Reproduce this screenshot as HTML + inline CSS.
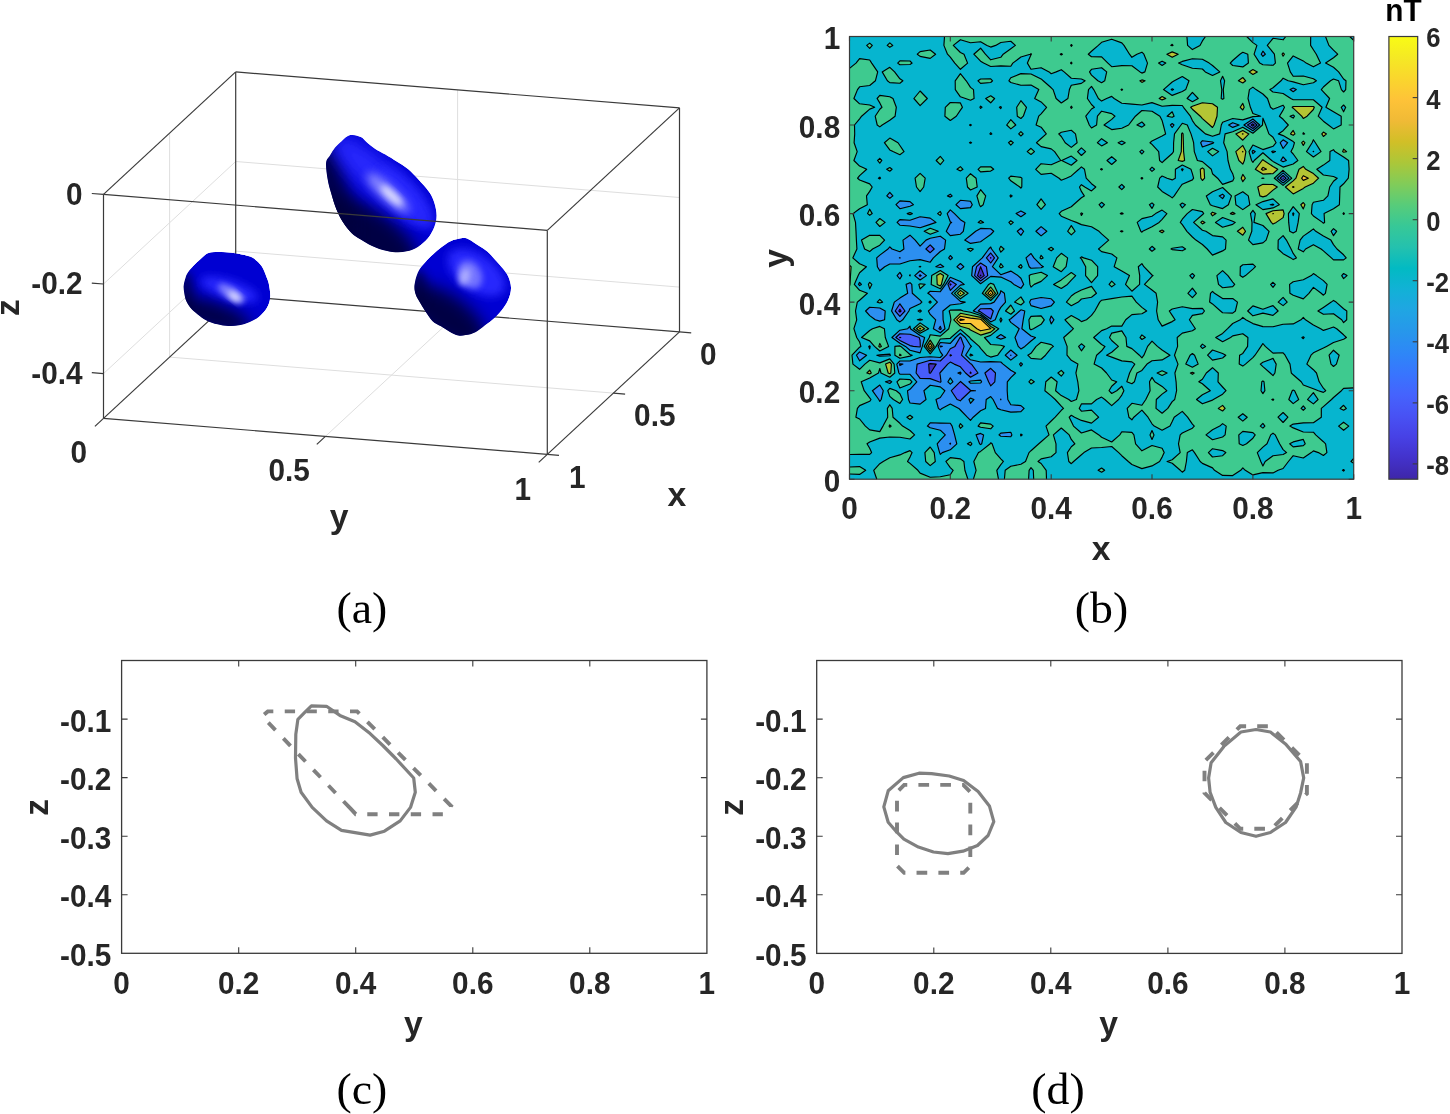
<!DOCTYPE html>
<html lang="en"><head><meta charset="utf-8"><title>Figure</title>
<style>html,body{margin:0;padding:0;background:#fff}svg{display:block}.t{font-family:"Liberation Sans",Arial,Helvetica,sans-serif;font-weight:bold}.c{font-family:"Liberation Serif","DejaVu Serif",serif}</style></head><body>
<svg width="1450" height="1114" viewBox="0 0 1450 1114">
<rect width="1450" height="1114" fill="#fff"/>
<g id="panel-a">
<line x1="235.7" y1="161.5" x2="103.5" y2="284.0" stroke="#dedede" stroke-width="1" />
<line x1="235.7" y1="161.5" x2="679.5" y2="197.5" stroke="#dedede" stroke-width="1" />
<line x1="235.7" y1="251.1" x2="103.5" y2="373.6" stroke="#dedede" stroke-width="1" />
<line x1="235.7" y1="251.1" x2="679.5" y2="287.1" stroke="#dedede" stroke-width="1" />
<line x1="169.6" y1="133.2" x2="169.6" y2="357.1" stroke="#dedede" stroke-width="1" />
<line x1="457.6" y1="89.9" x2="457.6" y2="313.9" stroke="#dedede" stroke-width="1" />
<line x1="169.6" y1="357.1" x2="613.4" y2="393.1" stroke="#dedede" stroke-width="1" />
<line x1="457.6" y1="313.9" x2="325.4" y2="436.4" stroke="#dedede" stroke-width="1" />
<line x1="235.7" y1="71.9" x2="235.7" y2="295.9" stroke="#3a3a3a" stroke-width="1.2" />
<line x1="235.7" y1="295.9" x2="103.5" y2="418.4" stroke="#3a3a3a" stroke-width="1.2" />
<line x1="235.7" y1="295.9" x2="679.5" y2="331.9" stroke="#3a3a3a" stroke-width="1.2" />
<defs><filter id="b3" x="-50%" y="-50%" width="200%" height="200%"><feGaussianBlur stdDeviation="3"/></filter><filter id="b5" x="-50%" y="-50%" width="200%" height="200%"><feGaussianBlur stdDeviation="5"/></filter><filter id="b8" x="-50%" y="-50%" width="200%" height="200%"><feGaussianBlur stdDeviation="8"/></filter><filter id="b12" x="-50%" y="-50%" width="200%" height="200%"><feGaussianBlur stdDeviation="12"/></filter>
<clipPath id="cp-big"><path d="M350.2 135.1C353.4 134.3 358.2 135.8 360.9 137.0C363.6 138.1 364.1 140.0 366.5 142.0C368.9 144.0 372.2 146.8 375.3 148.9C378.5 151.0 381.8 152.5 385.4 154.5C388.9 156.6 392.9 159.0 396.7 161.5C400.5 163.9 404.4 166.1 408.0 169.0C411.5 171.9 414.5 175.2 418.0 179.0C421.6 182.9 426.6 188.3 429.3 192.2C432.1 196.2 433.2 199.0 434.4 202.9C435.6 206.8 436.6 211.5 436.6 215.5C436.6 219.5 435.8 223.0 434.4 226.8C432.9 230.6 430.8 234.7 428.1 238.1C425.4 241.4 421.6 244.7 418.0 246.9C414.5 249.1 410.5 250.4 406.7 251.3C403.0 252.2 399.4 252.4 395.4 252.2C391.4 252.0 387.3 251.3 382.9 250.0C378.5 248.7 372.8 246.2 369.0 244.4C365.3 242.6 363.2 241.2 360.3 239.3C357.3 237.5 354.4 236.0 351.5 233.1C348.5 230.1 345.2 225.7 342.7 221.8C340.2 217.8 338.3 213.8 336.4 209.2C334.5 204.6 332.8 199.1 331.4 194.1C329.9 189.1 328.5 184.3 327.6 179.0C326.7 173.8 325.7 166.7 326.1 162.7C326.5 158.7 328.6 157.7 330.1 155.2C331.6 152.7 333.2 149.9 335.1 147.6C337.0 145.3 338.9 143.5 341.4 141.4C343.9 139.3 347.0 135.8 350.2 135.1Z"/></clipPath>
<clipPath id="cp-left"><path d="M208.5 252.9C212.0 251.7 216.9 251.9 221.4 251.9C225.8 252.0 230.9 252.6 235.2 253.2C239.5 253.8 243.9 254.8 247.0 255.7C250.2 256.6 251.5 256.8 254.0 258.6C256.4 260.5 259.8 263.6 261.9 266.5C263.9 269.5 265.1 273.5 266.3 276.4C267.4 279.3 268.1 280.4 268.8 283.8C269.4 287.3 270.6 293.1 270.2 297.2C269.9 301.2 268.7 304.7 266.8 308.0C264.9 311.3 261.7 314.6 258.9 316.9C256.1 319.2 253.3 320.5 250.0 321.9C246.7 323.3 242.8 324.6 239.1 325.3C235.5 326.0 231.9 326.2 228.3 326.0C224.7 325.8 221.0 325.3 217.4 324.3C213.8 323.4 209.8 322.0 206.5 320.4C203.3 318.7 200.3 316.5 197.7 314.4C195.0 312.4 192.6 310.2 190.7 308.0C188.8 305.8 187.4 303.6 186.3 301.1C185.2 298.6 184.8 295.7 184.3 293.2C183.9 290.7 183.5 288.8 183.6 286.3C183.8 283.8 184.6 280.7 185.3 278.4C186.0 276.1 186.4 274.6 187.8 272.5C189.2 270.3 191.6 267.8 193.7 265.6C195.8 263.3 198.1 261.2 200.6 259.1C203.1 257.0 205.1 254.1 208.5 252.9Z"/></clipPath>
<clipPath id="cp-right"><path d="M462.5 238.1C465.6 237.9 466.5 238.4 469.0 239.5C471.5 240.7 474.5 243.0 477.6 244.9C480.6 246.9 484.4 249.0 487.3 251.4C490.2 253.8 492.3 256.7 494.8 259.5C497.3 262.3 500.1 265.2 502.4 268.1C504.6 271.0 506.9 273.5 508.3 276.7C509.7 280.0 510.9 283.9 511.0 287.5C511.1 291.1 510.1 294.9 508.8 298.3C507.6 301.7 505.8 304.7 503.4 308.0C501.1 311.2 497.9 314.8 494.8 317.7C491.8 320.5 488.4 322.8 485.1 325.2C481.9 327.6 478.7 330.6 475.4 332.2C472.2 333.9 468.6 334.6 465.7 335.1C462.9 335.7 460.9 336.0 458.2 335.5C455.5 334.9 452.4 333.2 449.6 331.7C446.7 330.2 443.8 328.1 440.9 326.3C438.1 324.5 434.9 323.4 432.3 320.9C429.7 318.4 427.5 314.4 425.3 311.2C423.2 308.0 421.0 304.4 419.4 301.5C417.8 298.6 416.4 296.7 415.6 294.0C414.8 291.3 414.2 288.9 414.5 285.3C414.9 281.8 416.1 276.2 417.8 272.4C419.5 268.6 422.0 265.9 424.8 262.7C427.6 259.5 431.4 255.8 434.5 253.0C437.5 250.2 440.4 248.0 443.1 246.0C445.8 244.0 447.4 242.5 450.6 241.2C453.9 239.9 459.4 238.4 462.5 238.1Z"/></clipPath>
</defs>
<g clip-path="url(#cp-big)"><path d="M350.2 135.1C353.4 134.3 358.2 135.8 360.9 137.0C363.6 138.1 364.1 140.0 366.5 142.0C368.9 144.0 372.2 146.8 375.3 148.9C378.5 151.0 381.8 152.5 385.4 154.5C388.9 156.6 392.9 159.0 396.7 161.5C400.5 163.9 404.4 166.1 408.0 169.0C411.5 171.9 414.5 175.2 418.0 179.0C421.6 182.9 426.6 188.3 429.3 192.2C432.1 196.2 433.2 199.0 434.4 202.9C435.6 206.8 436.6 211.5 436.6 215.5C436.6 219.5 435.8 223.0 434.4 226.8C432.9 230.6 430.8 234.7 428.1 238.1C425.4 241.4 421.6 244.7 418.0 246.9C414.5 249.1 410.5 250.4 406.7 251.3C403.0 252.2 399.4 252.4 395.4 252.2C391.4 252.0 387.3 251.3 382.9 250.0C378.5 248.7 372.8 246.2 369.0 244.4C365.3 242.6 363.2 241.2 360.3 239.3C357.3 237.5 354.4 236.0 351.5 233.1C348.5 230.1 345.2 225.7 342.7 221.8C340.2 217.8 338.3 213.8 336.4 209.2C334.5 204.6 332.8 199.1 331.4 194.1C329.9 189.1 328.5 184.3 327.6 179.0C326.7 173.8 325.7 166.7 326.1 162.7C326.5 158.7 328.6 157.7 330.1 155.2C331.6 152.7 333.2 149.9 335.1 147.6C337.0 145.3 338.9 143.5 341.4 141.4C343.9 139.3 347.0 135.8 350.2 135.1Z" fill="#0000d2"/>
<ellipse cx="364.0" cy="233.1" rx="62.0" ry="26.0" transform="rotate(32 364.0 233.1)" fill="#00003c" opacity="0.95" filter="url(#b8)"/>
<ellipse cx="332.0" cy="195.4" rx="17.0" ry="58.0" transform="rotate(-14 332.0 195.4)" fill="#00003c" opacity="0.9" filter="url(#b8)"/>
<ellipse cx="380.4" cy="179.0" rx="62.0" ry="17.0" transform="rotate(42 380.4 179.0)" fill="#2a2aff" opacity="0.95" filter="url(#b8)"/>
<ellipse cx="405.5" cy="197.9" rx="40.0" ry="14.0" transform="rotate(48 405.5 197.9)" fill="#2a2aff" opacity="0.8" filter="url(#b5)"/>
<ellipse cx="387.9" cy="192.9" rx="28.0" ry="7.5" transform="rotate(43 387.9 192.9)" fill="#9090ff" opacity="0.95" filter="url(#b5)"/>
<ellipse cx="391.7" cy="195.4" rx="14.0" ry="4.0" transform="rotate(43 391.7 195.4)" fill="#e8e8ff" opacity="0.95" filter="url(#b3)"/>
</g>
<g clip-path="url(#cp-left)"><path d="M208.5 252.9C212.0 251.7 216.9 251.9 221.4 251.9C225.8 252.0 230.9 252.6 235.2 253.2C239.5 253.8 243.9 254.8 247.0 255.7C250.2 256.6 251.5 256.8 254.0 258.6C256.4 260.5 259.8 263.6 261.9 266.5C263.9 269.5 265.1 273.5 266.3 276.4C267.4 279.3 268.1 280.4 268.8 283.8C269.4 287.3 270.6 293.1 270.2 297.2C269.9 301.2 268.7 304.7 266.8 308.0C264.9 311.3 261.7 314.6 258.9 316.9C256.1 319.2 253.3 320.5 250.0 321.9C246.7 323.3 242.8 324.6 239.1 325.3C235.5 326.0 231.9 326.2 228.3 326.0C224.7 325.8 221.0 325.3 217.4 324.3C213.8 323.4 209.8 322.0 206.5 320.4C203.3 318.7 200.3 316.5 197.7 314.4C195.0 312.4 192.6 310.2 190.7 308.0C188.8 305.8 187.4 303.6 186.3 301.1C185.2 298.6 184.8 295.7 184.3 293.2C183.9 290.7 183.5 288.8 183.6 286.3C183.8 283.8 184.6 280.7 185.3 278.4C186.0 276.1 186.4 274.6 187.8 272.5C189.2 270.3 191.6 267.8 193.7 265.6C195.8 263.3 198.1 261.2 200.6 259.1C203.1 257.0 205.1 254.1 208.5 252.9Z" fill="#0000d2"/>
<ellipse cx="209.5" cy="314.9" rx="44.0" ry="14.0" transform="rotate(18 209.5 314.9)" fill="#00003c" opacity="0.95" filter="url(#b8)"/>
<ellipse cx="185.8" cy="293.2" rx="8.0" ry="22.0" transform="rotate(0 185.8 293.2)" fill="#00003c" opacity="0.7" filter="url(#b5)"/>
<ellipse cx="229.3" cy="289.3" rx="30.0" ry="9.0" transform="rotate(18 229.3 289.3)" fill="#2a2aff" opacity="0.95" filter="url(#b5)"/>
<ellipse cx="231.2" cy="293.2" rx="15.0" ry="5.5" transform="rotate(32 231.2 293.2)" fill="#8a8aff" opacity="0.95" filter="url(#b3)"/>
<ellipse cx="234.7" cy="296.7" rx="7.5" ry="3.5" transform="rotate(38 234.7 296.7)" fill="#e8e8ff" opacity="1" filter="url(#b3)"/>
</g>
<g clip-path="url(#cp-right)"><path d="M462.5 238.1C465.6 237.9 466.5 238.4 469.0 239.5C471.5 240.7 474.5 243.0 477.6 244.9C480.6 246.9 484.4 249.0 487.3 251.4C490.2 253.8 492.3 256.7 494.8 259.5C497.3 262.3 500.1 265.2 502.4 268.1C504.6 271.0 506.9 273.5 508.3 276.7C509.7 280.0 510.9 283.9 511.0 287.5C511.1 291.1 510.1 294.9 508.8 298.3C507.6 301.7 505.8 304.7 503.4 308.0C501.1 311.2 497.9 314.8 494.8 317.7C491.8 320.5 488.4 322.8 485.1 325.2C481.9 327.6 478.7 330.6 475.4 332.2C472.2 333.9 468.6 334.6 465.7 335.1C462.9 335.7 460.9 336.0 458.2 335.5C455.5 334.9 452.4 333.2 449.6 331.7C446.7 330.2 443.8 328.1 440.9 326.3C438.1 324.5 434.9 323.4 432.3 320.9C429.7 318.4 427.5 314.4 425.3 311.2C423.2 308.0 421.0 304.4 419.4 301.5C417.8 298.6 416.4 296.7 415.6 294.0C414.8 291.3 414.2 288.9 414.5 285.3C414.9 281.8 416.1 276.2 417.8 272.4C419.5 268.6 422.0 265.9 424.8 262.7C427.6 259.5 431.4 255.8 434.5 253.0C437.5 250.2 440.4 248.0 443.1 246.0C445.8 244.0 447.4 242.5 450.6 241.2C453.9 239.9 459.4 238.4 462.5 238.1Z" fill="#0000d2"/>
<ellipse cx="445.3" cy="316.6" rx="48.0" ry="22.0" transform="rotate(35 445.3 316.6)" fill="#00003c" opacity="0.95" filter="url(#b8)"/>
<ellipse cx="418.3" cy="289.7" rx="9.0" ry="20.0" transform="rotate(0 418.3 289.7)" fill="#00003c" opacity="0.7" filter="url(#b5)"/>
<ellipse cx="476.5" cy="272.4" rx="33.0" ry="18.0" transform="rotate(35 476.5 272.4)" fill="#2a2aff" opacity="0.95" filter="url(#b5)"/>
<ellipse cx="470.0" cy="274.6" rx="15.0" ry="11.0" transform="rotate(60 470.0 274.6)" fill="#7878ff" opacity="0.95" filter="url(#b3)"/>
<ellipse cx="464.7" cy="276.7" rx="5.0" ry="9.0" transform="rotate(20 464.7 276.7)" fill="#b8b8ff" opacity="0.9" filter="url(#b3)"/>
</g>
<line x1="235.7" y1="71.9" x2="103.5" y2="194.4" stroke="#3a3a3a" stroke-width="1.2" />
<line x1="235.7" y1="71.9" x2="679.5" y2="107.9" stroke="#3a3a3a" stroke-width="1.2" />
<line x1="103.5" y1="194.4" x2="547.3" y2="230.4" stroke="#3a3a3a" stroke-width="1.2" />
<line x1="679.5" y1="107.9" x2="547.3" y2="230.4" stroke="#3a3a3a" stroke-width="1.2" />
<line x1="103.5" y1="194.4" x2="103.5" y2="418.4" stroke="#3a3a3a" stroke-width="1.2" />
<line x1="547.3" y1="230.4" x2="547.3" y2="454.4" stroke="#3a3a3a" stroke-width="1.2" />
<line x1="679.5" y1="107.9" x2="679.5" y2="331.9" stroke="#3a3a3a" stroke-width="1.2" />
<line x1="103.5" y1="418.4" x2="547.3" y2="454.4" stroke="#3a3a3a" stroke-width="1.2" />
<line x1="547.3" y1="454.4" x2="679.5" y2="331.9" stroke="#3a3a3a" stroke-width="1.2" />
<line x1="103.5" y1="194.4" x2="91.8" y2="193.5" stroke="#3a3a3a" stroke-width="1.2" />
<line x1="103.5" y1="284.0" x2="91.8" y2="283.1" stroke="#3a3a3a" stroke-width="1.2" />
<line x1="103.5" y1="373.6" x2="91.8" y2="372.7" stroke="#3a3a3a" stroke-width="1.2" />
<line x1="679.5" y1="331.9" x2="691.2" y2="332.8" stroke="#3a3a3a" stroke-width="1.2" />
<line x1="613.4" y1="393.1" x2="625.1" y2="394.1" stroke="#3a3a3a" stroke-width="1.2" />
<line x1="547.3" y1="454.4" x2="559.0" y2="455.3" stroke="#3a3a3a" stroke-width="1.2" />
<line x1="103.5" y1="418.4" x2="94.9" y2="426.4" stroke="#3a3a3a" stroke-width="1.2" />
<line x1="325.4" y1="436.4" x2="316.8" y2="444.4" stroke="#3a3a3a" stroke-width="1.2" />
<line x1="547.3" y1="454.4" x2="538.7" y2="462.4" stroke="#3a3a3a" stroke-width="1.2" />
<g class="t">
<text transform="translate(82.6,204.5) scale(0.97,1)" text-anchor="end" font-size="30.7" fill="#262626" >0</text>
<text transform="translate(82.6,294.1) scale(0.97,1)" text-anchor="end" font-size="30.7" fill="#262626" >-0.2</text>
<text transform="translate(82.6,383.7) scale(0.97,1)" text-anchor="end" font-size="30.7" fill="#262626" >-0.4</text>
<text transform="translate(78.8,462.6) scale(0.97,1)" text-anchor="middle" font-size="30.7" fill="#262626" >0</text>
<text transform="translate(289.1,480.6) scale(0.97,1)" text-anchor="middle" font-size="30.7" fill="#262626" >0.5</text>
<text transform="translate(522.8,500.0) scale(0.97,1)" text-anchor="middle" font-size="30.7" fill="#262626" >1</text>
<text transform="translate(708.2,364.8) scale(0.97,1)" text-anchor="middle" font-size="30.7" fill="#262626" >0</text>
<text transform="translate(654.8,426.3) scale(0.97,1)" text-anchor="middle" font-size="30.7" fill="#262626" >0.5</text>
<text transform="translate(577.2,488.3) scale(0.97,1)" text-anchor="middle" font-size="30.7" fill="#262626" >1</text>
<text transform="translate(339.0,527.8) scale(1,1)" text-anchor="middle" font-size="33.7" fill="#262626" >y</text>
<text transform="translate(676.8,506.0) scale(1,1)" text-anchor="middle" font-size="33.7" fill="#262626" >x</text>
<text transform="translate(19,307.6) rotate(-90)" text-anchor="middle" font-size="33.7" fill="#262626">z</text>
</g>
</g>
<g id="panel-b">
<rect x="849.5" y="36.5" width="504.2" height="442.7" fill="#3eca8f"/>
<path d="M980.4 275.6L980.6 275.7L980.8 275.6L980.6 275.1Z" fill="#3e26a8" fill-rule="evenodd"/>
<path d="M929.3 373.0L930.2 373.2L930.6 373.0L936.2 364.1L930.2 363.6L928.7 364.1ZM970.1 373.0L970.5 373.3L971.2 373.0L970.5 372.1ZM950.0 355.2L950.3 355.9L951.5 355.2L950.3 354.7ZM899.7 337.5L899.9 337.7L900.8 337.5L899.9 337.4ZM898.8 311.0L899.9 312.2L901.1 311.0L899.9 309.3ZM950.0 284.4L950.3 285.2L951.1 284.4L950.3 283.9ZM977.5 275.6L980.6 278.4L984.2 275.6L980.6 266.7L980.6 266.7L980.6 266.7ZM980.6 275.7L980.4 275.6L980.6 275.1L980.8 275.6ZM990.5 257.9L990.7 258.1L990.9 257.9L990.7 257.6ZM1283.0 178.2L1283.1 178.3L1283.3 178.2L1283.1 178.0ZM1251.1 125.0L1252.9 126.2L1254.2 125.0L1252.9 123.8Z" fill="#422fc1" fill-rule="evenodd"/>
<path d="M949.7 443.8L950.3 444.1L950.6 443.8L950.3 443.2ZM957.1 399.5L960.4 400.8L961.5 399.5L970.5 391.0L975.5 390.7L970.5 390.3L960.8 381.8L960.4 381.4L960.1 381.8L951.3 390.7ZM1000.6 399.5L1000.8 399.8L1000.9 399.5L1000.8 399.0ZM938.8 381.8L940.3 382.3L941.0 381.8L940.3 375.9L939.8 373.0L940.3 372.5L947.7 364.1L950.3 362.1L954.2 364.1L960.4 366.8L965.6 373.0L970.5 377.2L978.0 373.0L971.5 364.1L970.5 363.7L961.5 355.2L964.1 346.4L960.9 337.5L960.4 337.1L960.0 337.5L954.9 346.4L950.3 348.8L946.3 355.2L940.3 361.0L930.2 360.2L920.1 363.2L917.1 364.1L916.1 373.0L920.1 378.4L930.2 378.6ZM950.3 355.9L950.0 355.2L950.3 354.7L951.5 355.2ZM970.5 373.3L970.1 373.0L970.5 372.1L971.2 373.0ZM930.2 373.2L929.3 373.0L928.7 364.1L930.2 363.6L936.2 364.1L930.6 373.0ZM988.6 381.8L990.7 385.8L994.8 381.8L995.5 373.0L990.7 368.3L984.9 373.0ZM899.5 364.1L899.9 365.6L902.9 364.1L899.9 363.7ZM1010.7 355.2L1010.8 355.4L1011.0 355.2L1010.8 355.1ZM913.4 346.4L920.1 347.0L920.3 346.4L920.1 340.5L919.2 337.5L910.0 334.3L899.9 333.8L895.8 337.5L899.9 340.4L910.0 345.6ZM899.9 337.7L899.7 337.5L899.9 337.4L900.8 337.5ZM940.1 346.4L940.3 346.9L942.3 346.4L940.3 346.0ZM938.9 328.7L940.3 329.5L941.2 328.7L940.3 326.3ZM895.2 311.0L899.9 316.3L905.0 311.0L899.9 303.8ZM899.9 312.2L898.8 311.0L899.9 309.3L901.1 311.0ZM978.2 311.0L980.6 311.9L990.7 319.0L993.3 311.0L990.7 308.5L980.6 308.7ZM947.9 284.4L950.3 290.3L956.4 284.4L950.3 280.6ZM950.3 285.2L950.0 284.4L950.3 283.9L951.1 284.4ZM919.2 275.6L920.1 276.3L921.2 275.6L920.1 274.8ZM974.6 275.6L980.6 281.0L987.7 275.6L986.4 266.7L980.6 263.0L976.6 266.7ZM980.6 278.4L977.5 275.6L980.6 266.7L980.6 266.7L980.6 266.7L984.2 275.6ZM899.4 257.9L899.9 258.0L900.2 257.9L899.9 257.7ZM986.4 257.9L990.7 263.0L994.5 257.9L990.7 253.0ZM990.7 258.1L990.5 257.9L990.7 257.6L990.9 257.9ZM925.9 249.0L930.2 252.7L934.2 249.0L930.2 244.8ZM1280.1 178.2L1283.1 180.6L1286.1 178.2L1283.1 175.5ZM1283.1 178.3L1283.0 178.2L1283.1 178.0L1283.3 178.2ZM1247.5 125.0L1252.9 128.5L1257.0 125.0L1252.9 121.4ZM1252.9 126.2L1251.1 125.0L1252.9 123.8L1254.2 125.0Z" fill="#475dfa" fill-rule="evenodd"/>
<path d="M939.6 452.6L940.3 454.4L942.3 452.6L950.3 449.8L956.8 443.8L954.6 434.9L952.1 426.1L950.3 423.3L940.3 423.1L930.2 422.8L927.4 426.1L930.2 427.8L940.3 430.2L945.3 434.9L940.3 440.1L937.2 443.8ZM950.3 444.1L949.7 443.8L950.3 443.2L950.6 443.8ZM979.6 443.8L980.6 444.6L981.7 443.8L983.6 434.9L980.6 433.4L976.1 434.9ZM999.0 434.9L1000.8 436.3L1010.8 436.7L1011.9 434.9L1010.8 432.3L1000.8 433.1ZM967.3 417.2L970.5 420.3L973.2 417.2L980.6 410.7L985.5 408.4L986.2 399.5L990.7 396.6L993.1 399.5L997.6 408.4L1000.8 409.8L1010.8 412.1L1020.9 411.7L1024.1 408.4L1020.9 405.6L1010.8 404.7L1007.8 399.5L1007.2 390.7L1007.3 381.8L1010.8 377.6L1015.6 373.0L1010.8 370.3L1003.1 364.1L1000.8 362.0L990.7 361.6L980.6 362.0L970.5 359.8L965.6 355.2L970.5 347.2L971.5 346.4L970.5 345.5L965.3 337.5L960.4 333.3L955.5 337.5L950.3 343.4L940.3 342.5L938.1 346.4L940.3 351.9L942.7 355.2L940.3 357.5L930.2 356.8L920.1 357.5L910.0 361.0L899.9 361.0L896.8 364.1L898.9 373.0L899.9 374.2L910.0 374.3L916.8 381.8L910.0 389.3L907.5 390.7L908.5 399.5L910.0 403.0L920.1 404.1L926.0 399.5L923.9 390.7L930.2 385.2L940.3 386.9L944.9 390.7L940.3 397.5L936.0 399.5L938.4 408.4L940.3 409.9L941.9 408.4L950.3 404.0L958.8 408.4L960.4 410.0ZM970.5 403.4L969.0 399.5L970.5 398.1L973.9 399.5ZM990.7 385.8L988.6 381.8L984.9 373.0L990.7 368.3L995.5 373.0L994.8 381.8ZM1000.8 399.8L1000.6 399.5L1000.8 399.0L1000.9 399.5ZM940.3 346.9L940.1 346.4L940.3 346.0L942.3 346.4ZM899.9 365.6L899.5 364.1L899.9 363.7L902.9 364.1ZM940.3 382.3L938.8 381.8L930.2 378.6L920.1 378.4L916.1 373.0L917.1 364.1L920.1 363.2L930.2 360.2L940.3 361.0L946.3 355.2L950.3 348.8L954.9 346.4L960.0 337.5L960.4 337.1L960.9 337.5L964.1 346.4L961.5 355.2L970.5 363.7L971.5 364.1L978.0 373.0L970.5 377.2L965.6 373.0L960.4 366.8L954.2 364.1L950.3 362.1L947.7 364.1L940.3 372.5L939.8 373.0L940.3 375.9L941.0 381.8ZM950.3 384.2L947.9 381.8L950.3 377.9L952.9 381.8ZM960.4 400.8L957.1 399.5L951.3 390.7L960.1 381.8L960.4 381.4L960.8 381.8L970.5 390.3L975.5 390.7L970.5 391.0L961.5 399.5ZM960.4 374.1L957.9 373.0L960.4 372.1L961.1 373.0ZM970.5 383.2L968.9 381.8L970.5 381.0L980.6 380.1L981.6 381.8L980.6 383.0ZM878.8 399.5L879.8 401.4L881.2 399.5L883.3 390.7L879.8 385.0L872.4 390.7ZM885.4 381.8L889.8 383.5L891.7 381.8L889.8 380.6ZM1019.6 364.1L1020.9 366.2L1022.5 364.1L1020.9 362.6ZM856.5 355.2L859.6 360.8L866.6 355.2L859.6 351.9ZM876.8 355.2L879.8 356.1L889.8 355.7L890.4 355.2L889.8 354.1L879.8 354.8ZM1005.3 355.2L1010.8 360.1L1017.1 355.2L1010.8 350.0ZM1010.8 355.4L1010.7 355.2L1010.8 355.1L1011.0 355.2ZM868.7 346.4L869.7 349.0L870.2 346.4L869.7 345.8ZM905.5 346.4L910.0 350.3L920.1 352.9L922.3 346.4L924.6 337.5L920.1 335.5L910.4 328.7L910.0 326.2L907.7 328.7L899.9 330.2L891.9 337.5L899.9 343.2ZM920.1 347.0L913.4 346.4L910.0 345.6L899.9 340.4L895.8 337.5L899.9 333.8L910.0 334.3L919.2 337.5L920.1 340.5L920.3 346.4ZM1018.2 346.4L1020.9 348.9L1024.9 346.4L1031.0 341.0L1035.5 337.5L1031.0 336.0L1021.9 328.7L1023.2 319.8L1024.8 311.0L1020.9 309.8L1019.6 311.0L1010.8 318.7L1009.1 319.8L1010.8 322.4L1019.2 328.7L1015.0 337.5ZM996.5 337.5L1000.8 339.1L1005.6 337.5L1000.8 334.5ZM933.4 328.7L940.3 332.8L945.0 328.7L943.1 319.8L942.9 311.0L950.3 305.0L960.4 303.7L965.2 302.1L960.4 301.4L951.6 293.3L960.4 285.1L964.2 284.4L960.4 281.5L950.3 277.3L945.7 284.4L940.3 291.7L930.2 291.2L927.8 293.3L930.2 294.8L937.4 302.1L930.2 309.4L928.4 311.0L930.2 314.4L935.7 319.8ZM940.3 329.5L938.9 328.7L940.3 326.3L941.2 328.7ZM950.3 290.3L947.9 284.4L950.3 280.6L956.4 284.4ZM875.3 319.8L879.8 321.1L884.6 319.8L885.2 311.0L879.8 308.0L869.7 307.3L865.6 311.0L869.7 315.6ZM896.8 319.8L899.9 321.9L902.7 319.8L908.9 311.0L910.0 308.4L920.1 303.7L921.9 302.1L920.1 300.1L912.3 293.3L911.8 284.4L910.0 282.7L906.1 284.4L907.7 293.3L899.9 298.1L894.3 302.1L891.6 311.0ZM899.9 316.3L895.2 311.0L899.9 303.8L905.0 311.0ZM917.3 319.8L920.1 320.2L922.5 319.8L920.1 319.0ZM988.4 319.8L990.7 321.9L995.2 319.8L998.7 311.0L1000.8 307.4L1005.5 302.1L1004.4 293.3L1000.8 290.7L1000.2 293.3L994.1 302.1L990.7 303.6L980.6 304.1L973.3 311.0L980.6 313.7ZM980.6 311.9L978.2 311.0L980.6 308.7L990.7 308.5L993.3 311.0L990.7 319.0ZM1049.8 319.8L1051.2 323.9L1054.0 319.8L1051.2 316.0ZM1029.6 302.1L1031.0 305.6L1041.1 308.5L1051.2 305.9L1054.4 302.1L1051.2 298.8L1041.1 297.5L1031.0 299.5ZM858.5 284.4L859.6 285.6L861.4 284.4L859.6 282.4ZM1013.9 284.4L1020.9 288.3L1023.7 284.4L1020.9 278.3L1017.9 275.6L1010.8 271.1L1000.8 274.7L992.4 266.7L998.2 257.9L991.6 249.0L990.7 247.0L988.8 249.0L982.3 257.9L980.6 259.4L972.5 266.7L971.7 275.6L980.6 283.7L990.7 276.4L1000.8 277.1L1010.8 281.8ZM980.6 281.0L974.6 275.6L976.6 266.7L980.6 263.0L986.4 266.7L987.7 275.6ZM990.7 263.0L986.4 257.9L990.7 253.0L994.5 257.9ZM897.1 275.6L899.9 279.0L901.9 275.6L899.9 272.4ZM914.7 275.6L920.1 280.0L926.5 275.6L920.1 270.8ZM920.1 276.3L919.2 275.6L920.1 274.8L921.2 275.6ZM877.4 266.7L879.8 270.8L884.7 266.7L889.8 264.0L899.9 264.0L910.0 260.8L920.1 259.6L930.2 262.2L933.4 257.9L940.3 251.5L944.5 249.0L945.6 240.1L940.3 236.2L930.2 238.3L926.0 240.1L920.1 246.1L915.2 240.1L910.0 235.2L903.0 240.1L903.9 249.0L899.9 251.7L892.0 249.0L889.8 246.8L888.0 249.0L879.8 255.1L876.7 257.9ZM899.9 258.0L899.4 257.9L899.9 257.7L900.2 257.9ZM930.2 252.7L925.9 249.0L930.2 244.8L934.2 249.0ZM935.8 266.7L940.3 267.5L943.7 266.7L940.3 264.2ZM957.0 266.7L960.4 269.6L963.8 266.7L960.4 263.5ZM1029.2 266.7L1031.0 268.3L1041.1 267.8L1043.4 266.7L1041.1 265.2L1033.9 257.9L1031.0 253.5L1026.0 257.9ZM948.7 257.9L950.3 259.7L952.5 257.9L950.3 255.5ZM964.7 240.1L970.5 243.4L980.6 241.8L982.8 240.1L990.7 234.5L993.7 231.3L990.7 228.7L980.6 228.4L975.7 231.3L970.5 235.5ZM946.3 231.3L950.3 235.6L960.4 234.2L963.3 231.3L964.9 222.4L960.4 219.7L954.5 213.6L950.3 209.9L947.2 213.6L950.3 221.7L951.6 222.4L950.3 223.2ZM1017.3 231.3L1020.9 235.4L1023.7 231.3L1020.9 228.2ZM1035.9 231.3L1041.1 235.9L1046.8 231.3L1041.1 226.6ZM897.1 222.4L899.9 225.2L910.0 226.0L920.1 227.7L930.2 224.4L936.0 222.4L930.2 218.1L920.1 216.8L910.0 220.2L899.9 219.6ZM1016.1 213.6L1020.9 216.7L1025.6 213.6L1020.9 210.9ZM1292.7 213.6L1293.2 215.6L1293.9 213.6L1293.2 212.8ZM896.0 204.7L899.9 208.7L910.0 206.3L913.4 204.7L910.0 201.6L899.9 200.9ZM956.0 204.7L960.4 208.6L970.5 207.6L972.3 204.7L970.5 201.3L960.4 200.3ZM1270.2 204.7L1273.0 205.1L1273.7 204.7L1273.0 204.1ZM886.8 195.9L889.8 198.2L892.9 195.9L889.8 192.3ZM947.4 195.9L950.3 197.1L952.1 195.9L950.3 194.2ZM1219.2 195.9L1222.6 198.6L1224.4 195.9L1222.6 194.2ZM1277.2 178.2L1283.1 183.0L1288.9 178.2L1283.1 172.9ZM1283.1 180.6L1280.1 178.2L1283.1 175.5L1286.1 178.2ZM1181.5 169.3L1182.3 170.8L1183.2 169.3L1182.3 168.8ZM1280.8 160.5L1283.1 161.8L1286.3 160.5L1283.1 156.9ZM1252.1 151.6L1252.9 153.7L1255.2 151.6L1252.9 150.3ZM1271.7 151.6L1273.0 152.8L1275.5 151.6L1273.0 151.0ZM1313.2 151.6L1313.4 151.7L1313.6 151.6L1313.4 151.3ZM1200.7 142.7L1202.4 147.0L1212.5 143.4L1213.7 142.7L1212.5 142.0L1202.4 140.7ZM1280.2 142.7L1283.1 148.5L1287.7 142.7L1283.1 139.8ZM1170.4 125.0L1172.2 127.5L1174.0 125.0L1172.2 123.5ZM1228.6 125.0L1232.7 127.4L1239.1 125.0L1232.7 122.7ZM1243.9 125.0L1252.9 130.8L1259.7 125.0L1252.9 119.0ZM1252.9 128.5L1247.5 125.0L1252.9 121.4L1257.0 125.0ZM1171.2 89.6L1172.2 90.3L1173.5 89.6L1172.2 88.8ZM1290.1 89.6L1293.2 91.7L1296.3 89.6L1293.2 88.1ZM1261.2 54.2L1262.9 56.3L1265.3 54.2L1262.9 51.2Z" fill="#2c8ff0" fill-rule="evenodd"/>
<path d="M849.5 479.2L859.6 479.2L869.7 479.2L876.8 479.2L873.7 470.3L879.8 463.7L883.2 461.5L889.8 457.8L899.9 454.9L905.0 452.6L910.0 450.6L912.1 452.6L910.0 457.1L907.5 461.5L910.0 463.4L917.9 470.3L920.1 473.1L930.2 477.2L940.3 476.8L950.3 474.8L953.2 470.3L950.3 467.6L945.9 461.5L950.3 457.6L960.4 458.9L963.9 461.5L964.9 470.3L967.9 479.2L970.5 479.2L973.4 479.2L976.1 470.3L973.8 461.5L978.5 452.6L980.6 451.4L990.2 443.8L990.7 442.8L992.1 443.8L995.3 452.6L1000.8 458.8L1003.4 461.5L1000.8 464.6L996.8 470.3L998.5 479.2L1000.8 479.2L1004.4 479.2L1005.2 470.3L1010.8 466.3L1020.9 464.2L1025.5 461.5L1029.0 452.6L1031.0 450.7L1038.8 443.8L1041.1 441.8L1049.0 434.9L1046.0 426.1L1051.2 421.0L1055.2 417.2L1061.3 410.3L1063.5 408.4L1061.3 406.2L1055.2 399.5L1051.2 395.9L1044.9 390.7L1045.8 381.8L1051.2 377.0L1057.1 381.8L1055.6 390.7L1061.3 395.6L1068.8 399.5L1071.3 401.5L1076.4 399.5L1078.9 390.7L1077.8 381.8L1075.9 373.0L1077.9 364.1L1071.3 360.3L1067.0 355.2L1067.1 346.4L1063.7 337.5L1071.3 330.8L1073.4 328.7L1071.3 326.7L1065.0 319.8L1071.3 315.6L1079.1 319.8L1081.4 321.6L1086.5 319.8L1091.5 315.4L1094.8 311.0L1099.7 302.1L1101.6 300.2L1111.7 298.6L1121.8 297.0L1131.9 296.1L1136.3 302.1L1141.9 307.4L1146.7 311.0L1141.9 313.8L1131.9 314.6L1125.7 319.8L1121.8 326.1L1111.7 326.1L1106.6 328.7L1101.6 330.6L1093.7 337.5L1101.6 344.5L1105.0 346.4L1101.6 350.8L1096.6 355.2L1094.1 364.1L1101.6 368.0L1106.5 373.0L1111.7 380.0L1116.7 381.8L1111.7 386.2L1109.0 390.7L1111.7 393.5L1116.7 390.7L1121.8 386.2L1123.9 390.7L1121.8 395.1L1118.6 399.5L1111.7 405.6L1104.8 399.5L1101.6 397.1L1096.6 399.5L1091.5 403.9L1081.4 403.9L1079.2 408.4L1081.4 411.2L1091.5 410.1L1098.6 417.2L1091.5 423.1L1081.4 420.4L1074.6 417.2L1071.3 415.3L1069.2 417.2L1071.3 421.6L1073.5 426.1L1081.4 433.0L1091.5 429.9L1098.9 434.9L1101.6 437.3L1111.7 442.0L1119.8 434.9L1121.8 431.8L1131.9 432.4L1133.9 434.9L1135.6 443.8L1141.9 450.8L1152.0 445.5L1162.1 448.2L1164.2 452.6L1162.1 457.1L1159.6 461.5L1152.0 465.9L1141.9 468.6L1131.9 464.5L1128.3 461.5L1121.8 455.7L1118.7 452.6L1111.7 446.5L1101.6 447.5L1091.5 448.0L1083.9 452.6L1081.4 454.7L1073.6 461.5L1071.3 463.7L1068.8 461.5L1067.4 452.6L1071.3 446.8L1074.9 443.8L1071.3 439.4L1069.2 434.9L1061.3 428.0L1053.4 434.9L1056.0 443.8L1056.0 452.6L1051.2 456.7L1041.1 458.9L1038.0 461.5L1041.1 463.5L1046.2 470.3L1046.5 479.2L1051.2 479.2L1061.3 479.2L1071.3 479.2L1081.4 479.2L1091.5 479.2L1101.6 479.2L1111.7 479.2L1121.8 479.2L1131.9 479.2L1141.9 479.2L1152.0 479.2L1162.1 479.2L1172.2 479.2L1182.3 479.2L1192.4 479.2L1202.4 479.2L1212.5 479.2L1222.6 479.2L1232.7 479.2L1242.8 479.2L1252.9 479.2L1262.9 479.2L1273.0 479.2L1283.1 479.2L1293.2 479.2L1303.3 479.2L1313.4 479.2L1323.4 479.2L1333.5 479.2L1343.6 479.2L1353.7 479.2L1353.7 470.3L1353.7 463.4L1351.0 461.5L1353.7 458.4L1353.7 452.6L1353.7 443.8L1353.7 434.9L1353.7 426.1L1353.7 417.2L1353.7 408.4L1353.7 399.5L1353.7 390.7L1353.7 387.9L1343.6 388.4L1341.4 390.7L1333.5 397.5L1331.5 399.5L1323.4 406.6L1321.3 408.4L1321.3 417.2L1313.4 422.7L1303.3 422.9L1293.2 424.1L1289.9 426.1L1293.2 427.9L1303.3 432.0L1313.4 432.2L1315.7 434.9L1323.4 441.7L1325.6 443.8L1326.9 452.6L1323.4 455.5L1318.4 452.6L1313.4 450.9L1311.3 452.6L1303.3 458.0L1293.2 455.7L1288.4 461.5L1283.1 468.5L1278.1 470.3L1273.0 472.9L1262.9 472.6L1252.9 474.9L1245.3 470.3L1242.8 467.8L1240.7 470.3L1232.7 475.6L1222.6 475.4L1214.5 470.3L1212.5 467.9L1202.4 463.4L1200.2 461.5L1194.5 452.6L1192.4 449.8L1187.3 452.6L1186.4 461.5L1184.7 470.3L1182.3 472.2L1180.3 470.3L1172.2 463.2L1167.1 461.5L1172.2 459.7L1180.2 452.6L1178.5 443.8L1180.2 434.9L1182.3 433.0L1192.4 428.2L1194.3 426.1L1192.4 424.1L1187.6 417.2L1182.3 411.4L1174.2 417.2L1172.2 421.6L1170.0 426.1L1162.1 430.2L1154.2 426.1L1152.0 423.8L1148.0 417.2L1141.9 410.1L1133.8 417.2L1131.9 419.8L1128.9 417.2L1127.2 408.4L1131.9 403.3L1141.9 405.2L1145.8 399.5L1150.1 390.7L1149.5 381.8L1152.0 377.4L1154.8 381.8L1162.1 386.4L1166.8 390.7L1162.1 394.1L1156.3 399.5L1156.0 408.4L1162.1 413.2L1167.8 408.4L1172.2 401.6L1174.7 399.5L1176.6 390.7L1176.1 381.8L1174.9 373.0L1178.0 364.1L1174.5 355.2L1177.6 346.4L1177.2 337.5L1182.3 333.1L1192.4 330.8L1195.4 328.7L1192.4 324.3L1189.4 319.8L1192.4 315.4L1202.4 313.6L1204.5 311.0L1202.4 308.4L1192.4 308.6L1182.3 306.8L1172.2 309.0L1169.3 311.0L1172.2 315.4L1175.1 319.8L1172.2 321.6L1162.1 326.1L1158.2 319.8L1156.6 311.0L1157.6 302.1L1156.1 293.3L1152.0 290.0L1144.5 284.4L1152.0 276.3L1153.0 275.6L1152.0 275.0L1143.9 266.7L1141.9 263.6L1138.3 266.7L1139.7 275.6L1139.6 284.4L1131.9 291.2L1125.5 284.4L1129.5 275.6L1121.8 271.0L1114.2 266.7L1116.9 257.9L1111.7 254.0L1101.6 251.6L1098.5 249.0L1101.6 246.4L1108.7 240.1L1101.6 233.9L1099.0 231.3L1091.5 226.7L1081.4 224.6L1076.4 222.4L1071.3 220.5L1061.3 216.2L1059.2 213.6L1061.3 211.3L1071.3 206.7L1073.5 204.7L1081.4 197.8L1084.3 195.9L1081.4 191.4L1079.5 187.0L1081.4 184.7L1084.8 187.0L1091.5 190.9L1095.8 187.0L1091.5 183.7L1086.2 178.2L1084.5 169.3L1081.4 166.9L1078.8 169.3L1071.3 175.9L1066.3 178.2L1061.3 180.2L1059.1 178.2L1051.2 173.3L1041.1 174.4L1035.7 169.3L1041.1 163.7L1051.2 164.7L1060.8 160.5L1054.6 151.6L1051.2 148.9L1041.1 146.6L1036.5 142.7L1041.1 138.5L1046.3 133.9L1041.1 127.2L1036.1 125.0L1038.7 116.2L1041.1 113.8L1046.6 107.3L1041.1 101.9L1034.7 98.5L1038.8 89.6L1031.0 85.1L1020.9 85.3L1010.8 82.5L1008.9 80.8L1010.8 77.7L1020.9 73.6L1031.0 74.0L1041.1 78.9L1043.2 80.8L1051.2 87.8L1053.1 89.6L1056.1 98.5L1061.3 103.0L1067.9 98.5L1069.4 89.6L1071.3 85.2L1081.4 83.4L1085.1 80.8L1081.4 79.0L1071.3 78.3L1064.1 71.9L1061.3 69.7L1056.2 71.9L1051.2 73.7L1049.1 71.9L1041.1 67.7L1031.0 69.2L1027.4 63.1L1031.0 54.8L1031.4 54.2L1031.0 53.7L1030.2 54.2L1020.9 57.0L1012.8 63.1L1010.8 66.2L1000.8 65.9L990.7 66.5L983.6 63.1L980.6 61.2L973.8 54.2L980.6 48.2L985.4 54.2L990.7 59.8L1000.8 57.3L1003.2 54.2L1010.8 48.7L1015.4 45.4L1010.8 41.3L1000.8 42.5L995.7 45.4L990.7 47.1L987.0 45.4L980.6 41.7L970.5 42.7L960.4 39.7L953.3 45.4L960.4 52.5L964.0 54.2L967.6 63.1L960.4 69.3L954.8 63.1L950.3 57.2L947.5 54.2L943.9 45.4L944.5 36.5L940.3 36.5L930.2 36.5L920.1 36.5L910.0 36.5L899.9 36.5L889.8 36.5L879.8 36.5L869.7 36.5L859.6 36.5L849.5 36.5L849.5 45.4L849.5 54.2L849.5 63.1L849.5 68.4L856.0 63.1L859.6 58.6L869.7 60.0L871.7 63.1L877.7 71.9L875.4 80.8L869.7 85.5L859.6 86.8L857.5 89.6L853.9 98.5L859.6 103.8L869.7 105.0L874.7 107.3L869.7 109.1L861.6 116.2L859.6 118.8L854.5 125.0L854.7 133.9L854.1 142.7L857.2 151.6L853.9 160.5L859.6 166.1L866.7 169.3L859.6 175.6L857.6 178.2L859.6 180.0L869.7 183.9L872.2 187.0L869.7 191.4L866.5 195.9L867.3 204.7L859.6 208.7L853.0 213.6L855.5 222.4L856.0 231.3L856.4 240.1L856.9 249.0L852.8 257.9L859.6 263.8L866.4 266.7L859.6 272.7L858.2 275.6L854.3 284.4L859.6 290.3L867.4 293.3L859.6 300.2L857.3 302.1L855.5 311.0L856.7 319.8L853.9 328.7L856.7 337.5L859.6 342.0L860.9 346.4L859.6 347.2L852.0 355.2L852.9 364.1L859.6 369.3L864.9 364.1L869.7 360.3L879.8 362.9L889.8 358.9L894.1 364.1L894.8 373.0L889.8 377.2L881.0 373.0L879.8 368.5L878.5 373.0L869.7 377.9L861.2 381.8L864.2 390.7L869.7 397.8L871.0 399.5L869.7 401.3L859.6 405.6L857.4 408.4L855.9 417.2L859.6 419.0L865.4 426.1L869.7 429.9L879.8 431.6L883.0 426.1L887.7 417.2L887.4 408.4L889.8 404.7L892.2 408.4L893.0 417.2L899.9 423.3L902.6 426.1L910.0 430.5L914.6 434.9L910.0 439.0L899.9 437.3L889.8 437.0L879.8 438.1L869.7 442.0L867.0 443.8L869.7 448.2L871.6 452.6L869.7 454.4L859.6 454.3L849.5 454.5L849.5 461.5L849.5 467.0L859.6 466.6L865.7 470.3L859.6 474.4L849.5 474.0ZM930.2 465.6L925.7 461.5L924.9 452.6L930.2 447.0L934.2 452.6L935.3 461.5ZM940.3 454.4L939.6 452.6L937.2 443.8L940.3 440.1L945.3 434.9L940.3 430.2L930.2 427.8L927.4 426.1L930.2 422.8L940.3 423.1L950.3 423.3L952.1 426.1L954.6 434.9L956.8 443.8L950.3 449.8L942.3 452.6ZM960.4 428.3L959.2 426.1L960.4 423.6L962.9 426.1ZM970.5 445.6L967.4 443.8L970.5 442.0L971.9 443.8ZM980.6 444.6L979.6 443.8L976.1 434.9L980.6 433.4L983.6 434.9L981.7 443.8ZM1000.8 436.3L999.0 434.9L1000.8 433.1L1010.8 432.3L1011.9 434.9L1010.8 436.7ZM1020.9 436.0L1020.5 434.9L1020.9 434.1L1022.3 434.9ZM1031.0 383.9L1028.9 381.8L1031.0 379.4L1034.3 381.8ZM1061.3 376.2L1057.9 373.0L1061.3 370.4L1063.9 373.0ZM1071.3 305.7L1066.4 302.1L1071.3 296.0L1075.0 293.3L1081.4 290.0L1091.5 286.4L1096.5 293.3L1091.5 297.3L1081.4 299.0L1078.3 302.1ZM1111.7 286.8L1109.1 284.4L1111.7 281.2L1115.1 284.4ZM1152.0 439.4L1150.0 434.9L1152.0 430.5L1154.0 434.9ZM1101.6 472.2L1098.1 470.3L1101.6 468.0L1104.7 470.3ZM1343.6 471.1L1342.5 470.3L1343.6 469.5L1344.4 470.3ZM1131.9 383.7L1126.8 381.8L1129.6 373.0L1131.9 368.5L1134.8 364.1L1131.9 361.9L1121.8 360.9L1111.7 357.1L1106.6 355.2L1111.7 352.3L1118.4 346.4L1111.7 340.5L1109.5 337.5L1111.7 333.1L1121.8 330.9L1126.0 337.5L1126.8 346.4L1131.9 348.6L1139.4 355.2L1141.9 357.8L1143.9 355.2L1147.6 346.4L1152.0 341.2L1157.4 346.4L1162.1 350.0L1170.0 355.2L1162.1 359.9L1152.0 360.7L1147.0 364.1L1141.9 370.4L1136.9 373.0L1134.4 381.8ZM1162.1 375.4L1157.1 373.0L1162.1 370.8L1167.1 373.0ZM869.7 48.4L866.7 45.4L869.7 43.1L872.3 45.4ZM859.6 285.6L858.5 284.4L859.6 282.4L861.4 284.4ZM859.6 360.8L856.5 355.2L859.6 351.9L866.6 355.2ZM869.7 349.0L868.7 346.4L869.7 345.8L870.2 346.4ZM879.8 356.1L876.8 355.2L879.8 354.8L889.8 354.1L890.4 355.2L889.8 355.7ZM879.8 401.4L878.8 399.5L872.4 390.7L879.8 385.0L883.3 390.7L881.2 399.5ZM899.9 403.4L893.4 399.5L889.8 396.4L887.8 390.7L889.8 388.4L896.3 390.7L899.9 393.8L902.6 399.5ZM910.0 419.5L906.9 417.2L910.0 415.2L912.7 417.2ZM930.2 435.9L929.4 434.9L930.2 434.6L930.9 434.9ZM970.5 420.3L967.3 417.2L960.4 410.0L958.8 408.4L950.3 404.0L941.9 408.4L940.3 409.9L938.4 408.4L936.0 399.5L940.3 397.5L944.9 390.7L940.3 386.9L930.2 385.2L923.9 390.7L926.0 399.5L920.1 404.1L910.0 403.0L908.5 399.5L907.5 390.7L910.0 389.3L916.8 381.8L910.0 374.3L899.9 374.2L898.9 373.0L896.8 364.1L899.9 361.0L910.0 361.0L920.1 357.5L930.2 356.8L940.3 357.5L942.7 355.2L940.3 351.9L938.1 346.4L940.3 342.5L950.3 343.4L955.5 337.5L960.4 333.3L965.3 337.5L970.5 345.5L971.5 346.4L970.5 347.2L965.6 355.2L970.5 359.8L980.6 362.0L990.7 361.6L1000.8 362.0L1003.1 364.1L1010.8 370.3L1015.6 373.0L1010.8 377.6L1007.3 381.8L1007.2 390.7L1007.8 399.5L1010.8 404.7L1020.9 405.6L1024.1 408.4L1020.9 411.7L1010.8 412.1L1000.8 409.8L997.6 408.4L993.1 399.5L990.7 396.6L986.2 399.5L985.5 408.4L980.6 410.7L973.2 417.2ZM980.6 427.2L978.1 426.1L980.6 422.9L990.7 424.1L993.2 426.1L990.7 428.8ZM1031.0 358.4L1027.8 355.2L1031.0 353.3L1036.1 346.4L1041.1 342.3L1051.2 344.6L1053.4 346.4L1051.2 348.1L1045.5 355.2L1041.1 359.2ZM1061.3 288.5L1053.6 284.4L1061.3 279.9L1067.0 275.6L1071.3 272.5L1075.7 275.6L1071.3 280.2L1067.4 284.4ZM1091.5 282.7L1085.6 275.6L1085.7 266.7L1081.4 258.9L1080.2 257.9L1081.4 256.9L1083.7 257.9L1091.5 260.2L1097.7 266.7L1097.6 275.6ZM1343.6 430.3L1338.6 426.1L1343.6 422.2L1348.8 426.1ZM1141.9 339.5L1140.0 337.5L1141.9 334.9L1145.3 337.5ZM879.8 351.0L874.5 346.4L869.7 340.9L861.6 337.5L869.7 330.5L872.5 328.7L879.8 326.4L884.4 328.7L885.3 337.5L888.6 346.4ZM889.8 383.5L885.4 381.8L889.8 380.6L891.7 381.8ZM899.9 388.0L896.9 381.8L899.9 379.0L910.0 379.6L912.0 381.8L910.0 384.0ZM899.9 358.3L894.9 355.2L894.9 346.4L899.9 345.9L900.8 346.4L910.0 354.5L912.3 355.2L910.0 356.1ZM970.5 355.9L969.8 355.2L970.5 354.1L972.8 355.2ZM990.7 357.1L986.6 355.2L980.6 348.4L979.2 346.4L970.5 338.7L969.7 337.5L960.4 329.4L951.1 337.5L950.3 338.4L940.3 339.0L936.1 346.4L930.2 353.9L924.2 346.4L929.3 337.5L930.2 334.8L940.3 336.1L948.8 328.7L950.3 322.5L950.9 319.8L950.3 315.4L949.2 311.0L950.3 310.1L960.4 309.9L963.3 311.0L970.5 312.2L980.6 315.5L986.1 319.8L990.7 324.1L998.7 328.7L990.7 335.4L984.5 337.5L990.7 344.5L1000.8 345.3L1004.4 346.4L1000.8 350.8L997.7 355.2ZM1010.8 360.1L1005.3 355.2L1010.8 350.0L1017.1 355.2ZM1020.9 366.2L1019.6 364.1L1020.9 362.6L1022.5 364.1ZM1051.2 323.9L1049.8 319.8L1051.2 316.0L1054.0 319.8ZM1061.3 271.7L1053.2 266.7L1056.7 257.9L1061.3 253.3L1067.6 257.9L1066.1 266.7ZM1071.3 234.9L1067.7 231.3L1071.3 225.6L1075.1 231.3ZM1343.6 410.2L1340.1 408.4L1343.6 405.3L1346.3 408.4ZM879.8 321.1L875.3 319.8L869.7 315.6L865.6 311.0L869.7 307.3L879.8 308.0L885.2 311.0L884.6 319.8ZM910.0 350.3L905.5 346.4L899.9 343.2L891.9 337.5L899.9 330.2L907.7 328.7L910.0 326.2L910.4 328.7L920.1 335.5L924.6 337.5L922.3 346.4L920.1 352.9ZM940.3 332.8L933.4 328.7L935.7 319.8L930.2 314.4L928.4 311.0L930.2 309.4L937.4 302.1L930.2 294.8L927.8 293.3L930.2 291.2L940.3 291.7L945.7 284.4L950.3 277.3L960.4 281.5L964.2 284.4L960.4 285.1L951.6 293.3L960.4 301.4L965.2 302.1L960.4 303.7L950.3 305.0L942.9 311.0L943.1 319.8L945.0 328.7ZM970.5 251.4L967.4 249.0L970.5 248.2L973.3 249.0ZM990.7 321.9L988.4 319.8L980.6 313.7L973.3 311.0L980.6 304.1L990.7 303.6L994.1 302.1L1000.2 293.3L1000.8 290.7L1004.4 293.3L1005.5 302.1L1000.8 307.4L998.7 311.0L995.2 319.8ZM1000.8 339.1L996.5 337.5L1000.8 334.5L1005.6 337.5ZM1020.9 348.9L1018.2 346.4L1015.0 337.5L1019.2 328.7L1010.8 322.4L1009.1 319.8L1010.8 318.7L1019.6 311.0L1020.9 309.8L1024.8 311.0L1023.2 319.8L1021.9 328.7L1031.0 336.0L1035.5 337.5L1031.0 341.0L1024.9 346.4ZM869.7 288.8L868.4 284.4L869.7 282.3L871.8 284.4ZM879.8 303.0L877.2 302.1L879.8 299.4L882.6 302.1ZM899.9 321.9L896.8 319.8L891.6 311.0L894.3 302.1L899.9 298.1L907.7 293.3L906.1 284.4L910.0 282.7L911.8 284.4L912.3 293.3L920.1 300.1L921.9 302.1L920.1 303.7L910.0 308.4L908.9 311.0L902.7 319.8ZM920.1 333.3L913.5 328.7L920.1 322.9L928.6 328.7ZM930.2 303.2L928.9 302.1L930.2 301.0L931.2 302.1ZM940.3 288.8L931.2 284.4L931.7 275.6L940.3 270.5L948.1 275.6L943.5 284.4ZM950.3 259.7L948.7 257.9L950.3 255.5L952.5 257.9ZM960.4 269.6L957.0 266.7L960.4 263.5L963.8 266.7ZM960.4 298.8L954.5 293.3L960.4 287.8L968.1 293.3ZM970.5 243.4L964.7 240.1L970.5 235.5L975.7 231.3L980.6 228.4L990.7 228.7L993.7 231.3L990.7 234.5L982.8 240.1L980.6 241.8ZM990.7 300.5L982.3 293.3L988.7 284.4L990.7 283.2L993.8 284.4L997.8 293.3ZM1000.8 322.1L999.9 319.8L1000.8 317.9L1002.0 319.8ZM1010.8 314.2L1005.5 311.0L1010.8 305.0L1014.5 311.0ZM1020.9 305.0L1014.5 302.1L1020.9 296.9L1024.2 302.1ZM1031.0 329.8L1029.7 328.7L1028.9 319.8L1031.0 316.4L1041.1 315.9L1044.3 319.8L1041.1 324.3L1033.4 328.7ZM869.7 251.6L864.6 249.0L861.5 240.1L869.7 235.2L879.8 235.4L884.6 240.1L879.8 245.2L872.6 249.0ZM879.8 270.8L877.4 266.7L876.7 257.9L879.8 255.1L888.0 249.0L889.8 246.8L892.0 249.0L899.9 251.7L903.9 249.0L903.0 240.1L910.0 235.2L915.2 240.1L920.1 246.1L926.0 240.1L930.2 238.3L940.3 236.2L945.6 240.1L944.5 249.0L940.3 251.5L933.4 257.9L930.2 262.2L920.1 259.6L910.0 260.8L899.9 264.0L889.8 264.0L884.7 266.7ZM899.9 279.0L897.1 275.6L899.9 272.4L901.9 275.6ZM910.0 275.9L909.6 275.6L910.0 274.7L910.2 275.6ZM920.1 288.8L918.8 284.4L920.1 283.8L925.1 284.4ZM920.1 320.2L917.3 319.8L920.1 319.0L922.5 319.8ZM940.3 267.5L935.8 266.7L940.3 264.2L943.7 266.7ZM950.3 235.6L946.3 231.3L950.3 223.2L951.6 222.4L950.3 221.7L947.2 213.6L950.3 209.9L954.5 213.6L960.4 219.7L964.9 222.4L963.3 231.3L960.4 234.2ZM980.6 223.3L978.2 222.4L980.6 220.5L983.6 222.4ZM1020.9 288.3L1013.9 284.4L1010.8 281.8L1000.8 277.1L990.7 276.4L980.6 283.7L971.7 275.6L972.5 266.7L980.6 259.4L982.3 257.9L988.8 249.0L990.7 247.0L991.6 249.0L998.2 257.9L992.4 266.7L1000.8 274.7L1010.8 271.1L1017.9 275.6L1020.9 278.3L1023.7 284.4ZM1031.0 305.6L1029.6 302.1L1031.0 299.5L1041.1 297.5L1051.2 298.8L1054.4 302.1L1051.2 305.9L1041.1 308.5ZM869.7 215.3L867.6 213.6L869.7 209.2L872.2 213.6ZM879.8 226.5L876.0 222.4L879.8 218.5L885.1 222.4ZM889.8 198.2L886.8 195.9L889.8 192.3L892.9 195.9ZM899.9 225.2L897.1 222.4L899.9 219.6L910.0 220.2L920.1 216.8L930.2 218.1L936.0 222.4L930.2 224.4L920.1 227.7L910.0 226.0ZM930.2 234.3L924.2 231.3L930.2 228.3L938.3 231.3ZM940.3 215.5L937.6 213.6L940.3 211.4L941.3 213.6ZM920.1 280.0L914.7 275.6L920.1 270.8L926.5 275.6ZM920.1 312.2L918.1 311.0L920.1 309.9L921.3 311.0ZM950.3 197.1L947.4 195.9L950.3 194.2L952.1 195.9ZM960.4 208.6L956.0 204.7L960.4 200.3L970.5 201.3L972.3 204.7L970.5 207.6ZM980.6 206.7L979.4 204.7L976.9 195.9L980.6 189.7L985.7 195.9L983.2 204.7ZM1000.8 267.9L999.5 266.7L1000.8 263.5L1003.2 266.7ZM1010.8 224.6L1008.9 222.4L1010.8 220.7L1013.3 222.4ZM1020.9 268.3L1018.4 266.7L1020.9 264.5L1022.2 266.7ZM1031.0 287.1L1029.9 284.4L1029.2 275.6L1031.0 274.5L1041.1 272.2L1047.5 275.6L1041.1 281.4L1034.2 284.4ZM1051.2 250.8L1048.3 249.0L1051.2 247.3L1053.6 249.0ZM879.8 178.9L878.4 178.2L879.8 177.2L880.5 178.2ZM889.8 171.2L886.7 169.3L889.8 167.5L892.1 169.3ZM899.9 208.7L896.0 204.7L899.9 200.9L910.0 201.6L913.4 204.7L910.0 206.3ZM910.0 214.6L907.2 213.6L910.0 212.5L912.3 213.6ZM920.1 191.6L916.5 187.0L915.1 178.2L920.1 173.3L925.2 178.2L923.7 187.0ZM940.3 164.7L936.2 160.5L940.3 156.4L943.8 160.5ZM920.1 266.9L919.2 266.7L920.1 266.4L920.8 266.7ZM950.3 120.5L944.9 116.2L945.3 107.3L950.3 102.5L960.4 102.9L962.4 107.3L960.4 110.1L956.3 116.2ZM960.4 171.0L957.0 169.3L960.4 166.6L963.0 169.3ZM970.5 190.0L967.5 187.0L966.3 178.2L970.5 173.7L976.1 178.2L977.2 187.0ZM980.6 171.9L978.1 169.3L980.6 166.9L990.7 166.7L993.7 169.3L990.7 171.1ZM1000.8 252.2L999.4 249.0L1000.8 246.3L1004.0 249.0ZM1010.8 197.1L1010.0 195.9L1010.8 194.9L1012.2 195.9ZM1020.9 235.4L1017.3 231.3L1020.9 228.2L1023.7 231.3ZM1031.0 268.3L1029.2 266.7L1026.0 257.9L1031.0 253.5L1033.9 257.9L1041.1 265.2L1043.4 266.7L1041.1 267.8ZM879.8 163.2L877.6 160.5L879.8 158.3L881.8 160.5ZM899.9 154.7L893.0 151.6L889.8 149.9L884.4 142.7L889.8 138.1L898.0 142.7L899.9 145.5L904.0 151.6ZM920.1 105.7L913.9 98.5L920.1 91.0L927.3 98.5ZM970.5 143.3L969.5 142.7L970.5 142.1L971.6 142.7ZM980.6 108.4L979.9 107.3L980.6 106.1L982.0 107.3ZM990.7 134.5L989.9 133.9L990.7 132.7L991.8 133.9ZM1000.8 108.6L999.4 107.3L1000.8 106.5L1001.4 107.3ZM1020.9 216.7L1016.1 213.6L1020.9 210.9L1025.6 213.6ZM1031.0 154.5L1027.2 151.6L1031.0 148.3L1034.5 151.6ZM1041.1 258.9L1040.0 257.9L1041.1 255.3L1043.1 257.9ZM879.8 126.9L877.2 125.0L875.2 116.2L879.8 109.3L882.0 107.3L879.8 102.9L877.1 98.5L879.8 95.4L889.8 96.7L893.0 98.5L896.3 107.3L895.1 116.2L889.8 120.3L882.2 125.0ZM920.1 56.4L917.3 54.2L920.1 51.6L930.2 50.0L935.6 54.2L930.2 58.4ZM970.5 125.7L969.5 125.0L970.5 124.4L971.3 125.0ZM980.6 83.4L978.0 80.8L980.6 79.0L990.7 78.9L992.6 80.8L990.7 82.5ZM990.7 102.8L985.7 98.5L990.7 95.8L994.6 98.5ZM1020.9 188.2L1019.8 187.0L1010.8 180.8L1008.7 178.2L1010.8 176.1L1020.9 177.4L1021.9 178.2L1021.8 187.0ZM1041.1 235.9L1035.9 231.3L1041.1 226.6L1046.8 231.3ZM889.8 82.6L887.4 80.8L882.2 71.9L889.8 67.3L894.6 71.9L899.9 78.8L902.9 80.8L899.9 83.2ZM970.5 100.2L965.5 98.5L960.4 96.8L955.3 89.6L955.2 80.8L960.4 73.7L966.2 80.8L970.5 87.4L973.5 89.6L974.1 98.5ZM1010.8 145.1L1008.5 142.7L1010.8 140.8L1013.3 142.7ZM1020.9 136.0L1018.7 133.9L1020.9 131.6L1023.2 133.9ZM1041.1 209.3L1036.9 204.7L1041.1 198.8L1045.4 204.7ZM889.8 47.3L887.2 45.4L889.8 42.9L892.7 45.4ZM899.9 64.7L897.7 63.1L899.9 60.8L910.0 61.0L912.1 63.1L910.0 64.5ZM1010.8 128.9L1006.7 125.0L1010.8 119.7L1015.8 125.0ZM1020.9 118.5L1017.3 116.2L1016.7 107.3L1020.9 100.7L1026.5 107.3L1023.3 116.2ZM1028.6 479.2L1031.0 479.2L1033.7 479.2L1033.3 470.3L1031.0 467.6L1029.1 470.3ZM1260.8 461.5L1262.9 465.9L1265.2 461.5L1273.0 455.8L1283.1 454.5L1286.6 452.6L1283.1 449.6L1279.6 443.8L1275.3 434.9L1273.0 433.2L1270.7 434.9L1267.0 443.8L1262.9 447.1L1257.3 452.6ZM1208.4 452.6L1212.5 457.0L1222.6 455.7L1225.8 452.6L1222.6 450.6L1212.5 448.7ZM1239.2 443.8L1242.8 445.5L1246.5 443.8L1252.9 438.2L1255.2 434.9L1252.9 432.6L1242.8 431.4L1238.8 434.9ZM1289.7 443.8L1293.2 446.9L1303.3 445.6L1305.2 443.8L1303.3 439.4L1293.2 441.9ZM1206.0 434.9L1212.5 439.7L1222.6 437.0L1225.1 434.9L1226.2 426.1L1222.6 423.6L1219.8 426.1L1212.5 429.7ZM1260.3 426.1L1262.9 428.1L1264.9 426.1L1262.9 423.4ZM1238.2 417.2L1242.8 421.1L1247.2 417.2L1242.8 413.7ZM1278.0 417.2L1283.1 422.5L1287.9 417.2L1283.1 412.5ZM1301.1 408.4L1303.3 410.3L1305.4 408.4L1303.3 405.9ZM969.0 399.5L970.5 403.4L973.9 399.5L970.5 398.1ZM1196.5 399.5L1202.4 403.8L1212.5 400.1L1213.4 399.5L1222.6 394.2L1226.0 390.7L1222.6 387.0L1218.0 381.8L1218.3 373.0L1212.5 367.7L1206.3 373.0L1202.4 379.2L1198.8 381.8L1202.4 383.8L1210.3 390.7L1202.4 394.8ZM1271.8 399.5L1273.0 400.3L1273.7 399.5L1273.0 399.0ZM1288.8 399.5L1293.2 403.6L1298.7 399.5L1294.6 390.7L1293.2 390.0L1292.2 390.7ZM1307.5 399.5L1313.4 403.9L1318.1 399.5L1313.4 392.6ZM1261.0 390.7L1262.9 393.6L1264.9 390.7L1264.0 381.8L1262.9 380.9L1261.8 381.8ZM1318.4 390.7L1323.4 392.4L1325.7 390.7L1323.4 388.2L1319.2 381.8L1316.5 373.0L1313.4 369.7L1306.9 364.1L1311.0 355.2L1313.4 352.8L1323.4 348.1L1326.5 346.4L1333.5 342.5L1343.6 339.2L1346.4 337.5L1343.6 334.8L1336.7 328.7L1333.5 327.0L1328.5 328.7L1323.4 330.4L1320.7 328.7L1313.4 324.9L1305.5 319.8L1303.3 317.4L1301.0 319.8L1293.2 323.9L1283.1 324.2L1273.0 326.8L1262.9 326.6L1252.9 323.6L1245.8 319.8L1242.8 317.4L1240.3 319.8L1232.7 323.5L1227.6 328.7L1222.6 333.4L1215.7 337.5L1222.6 341.7L1230.6 337.5L1232.7 335.9L1242.8 333.7L1247.9 337.5L1247.6 346.4L1242.8 353.4L1239.6 355.2L1239.2 364.1L1242.8 366.1L1245.4 364.1L1252.9 357.6L1255.0 355.2L1261.0 346.4L1262.9 343.5L1265.3 346.4L1273.0 353.1L1283.1 352.8L1285.1 355.2L1290.0 364.1L1291.3 373.0L1293.2 374.8L1301.2 381.8L1303.3 385.0L1313.4 388.7ZM1303.3 338.7L1301.9 337.5L1303.3 336.8L1304.2 337.5ZM947.9 381.8L950.3 384.2L952.9 381.8L950.3 377.9ZM968.9 381.8L970.5 383.2L980.6 383.0L981.6 381.8L980.6 380.1L970.5 381.0ZM957.9 373.0L960.4 374.1L961.1 373.0L960.4 372.1ZM1270.2 373.0L1273.0 375.6L1274.9 373.0L1276.2 364.1L1273.0 358.4L1262.9 362.2L1260.3 364.1L1262.9 366.6ZM1185.8 364.1L1192.4 367.2L1198.2 364.1L1194.6 355.2L1192.4 353.5L1190.1 355.2ZM1331.0 364.1L1333.5 366.5L1336.4 364.1L1339.2 355.2L1333.5 350.2L1329.1 355.2ZM1207.6 355.2L1212.5 360.1L1222.6 358.0L1225.8 355.2L1222.6 353.5L1212.5 350.0ZM1078.6 346.4L1081.4 350.8L1084.7 346.4L1081.4 343.8ZM1200.5 346.4L1202.4 348.4L1205.6 346.4L1202.4 344.1ZM1341.7 319.8L1343.6 322.6L1346.7 319.8L1346.8 311.0L1343.6 308.7L1336.1 302.1L1333.5 300.4L1331.3 302.1L1323.4 307.4L1317.9 311.0L1323.4 314.3L1333.5 313.7ZM1220.5 311.0L1222.6 312.8L1232.7 313.1L1235.4 311.0L1237.5 302.1L1232.7 298.5L1222.6 298.6L1214.5 293.3L1212.5 291.3L1210.5 293.3L1209.6 302.1L1212.5 303.9ZM1247.7 311.0L1252.9 315.8L1262.9 313.1L1273.0 315.4L1278.1 311.0L1273.0 305.6L1262.9 309.2L1252.9 305.9ZM1278.2 302.1L1283.1 305.6L1287.2 302.1L1283.1 297.4ZM1187.9 293.3L1192.4 297.6L1196.4 293.3L1192.4 288.1ZM1289.9 293.3L1293.2 295.3L1303.3 298.9L1308.9 293.3L1313.4 287.4L1321.2 293.3L1323.4 295.2L1325.4 293.3L1327.1 284.4L1323.4 280.6L1316.4 275.6L1313.4 273.6L1311.3 275.6L1303.3 279.8L1293.2 281.7L1289.6 284.4ZM1218.5 284.4L1222.6 287.7L1232.7 286.6L1234.7 284.4L1232.7 282.1L1227.9 275.6L1222.6 270.6L1216.9 275.6ZM1270.6 284.4L1273.0 287.3L1275.3 284.4L1273.0 282.3ZM1189.8 275.6L1192.4 278.6L1194.6 275.6L1192.4 273.5ZM1240.1 275.6L1242.8 277.3L1245.5 275.6L1252.9 269.1L1255.5 266.7L1252.9 264.1L1242.8 264.7L1240.3 266.7ZM1341.7 275.6L1343.6 278.6L1347.0 275.6L1343.6 273.5ZM1290.8 257.9L1293.2 259.6L1296.4 257.9L1293.2 253.4L1291.1 249.0L1286.4 240.1L1283.1 235.6L1278.2 240.1L1278.0 249.0L1283.1 253.7ZM1331.4 257.9L1333.5 259.9L1343.6 259.9L1346.2 257.9L1343.6 254.8L1337.0 249.0L1333.5 244.6L1330.9 240.1L1323.4 235.9L1315.8 231.3L1313.4 228.9L1310.3 231.3L1303.3 236.1L1300.1 240.1L1298.2 249.0L1303.3 251.8L1305.6 249.0L1313.4 244.7L1321.1 249.0L1323.4 250.9ZM1149.3 249.0L1152.0 251.3L1155.1 249.0L1152.0 246.3ZM1171.0 249.0L1172.2 249.6L1182.3 250.8L1185.6 249.0L1182.3 246.8L1172.2 248.2ZM1207.2 249.0L1212.5 255.1L1222.6 250.9L1225.5 249.0L1226.1 240.1L1222.6 236.9L1212.5 235.6L1205.9 231.3L1202.4 230.2L1193.6 222.4L1202.4 214.7L1203.7 213.6L1202.4 211.6L1192.4 209.5L1187.2 213.6L1182.3 219.2L1180.3 222.4L1182.3 224.7L1186.9 231.3L1192.4 237.0L1195.9 240.1L1202.4 244.5ZM1248.5 240.1L1252.9 244.6L1262.9 242.9L1266.1 240.1L1269.1 231.3L1262.9 225.5L1254.0 222.4L1255.3 213.6L1252.9 210.3L1250.5 213.6L1252.0 222.4L1251.8 231.3ZM1120.4 231.3L1121.8 232.0L1122.9 231.3L1121.8 230.7ZM1140.8 231.3L1141.9 232.2L1142.7 231.3L1152.0 226.7L1159.1 222.4L1162.1 219.3L1166.9 213.6L1162.1 210.1L1155.6 213.6L1152.0 216.2L1141.9 218.6L1137.2 222.4ZM1289.7 231.3L1293.2 233.0L1296.2 231.3L1298.1 222.4L1299.3 213.6L1293.2 206.7L1288.4 213.6L1288.7 222.4ZM1293.2 215.6L1292.7 213.6L1293.2 212.8L1293.9 213.6ZM1331.1 231.3L1333.5 235.7L1336.6 231.3L1333.5 228.6ZM1215.5 222.4L1222.6 227.2L1232.7 224.4L1235.3 222.4L1232.7 221.2L1222.6 217.5ZM1322.5 222.4L1323.4 223.2L1324.6 222.4L1324.1 213.6L1333.5 208.7L1339.4 204.7L1339.7 195.9L1340.0 187.0L1343.6 183.8L1348.3 178.2L1349.1 169.3L1348.6 160.5L1343.6 157.1L1334.9 151.6L1333.5 149.7L1330.0 151.6L1329.8 160.5L1323.4 165.1L1316.8 169.3L1323.4 175.0L1333.5 176.5L1337.2 178.2L1333.5 181.3L1329.7 187.0L1327.9 195.9L1323.4 200.3L1313.4 202.3L1312.1 204.7L1311.4 213.6L1313.4 216.0ZM1080.7 213.6L1081.4 215.5L1082.6 213.6L1081.4 212.9ZM1120.3 213.6L1121.8 214.1L1123.1 213.6L1121.8 212.8ZM1343.0 213.6L1343.6 214.5L1344.4 213.6L1343.6 212.7ZM1099.1 204.7L1101.6 207.7L1104.5 204.7L1101.6 202.3ZM1149.4 204.7L1152.0 208.4L1154.0 204.7L1152.0 202.9ZM1180.0 204.7L1182.3 207.9L1185.5 204.7L1182.3 203.0ZM1210.3 204.7L1212.5 205.8L1222.6 208.6L1228.4 204.7L1231.5 195.9L1222.6 187.5L1212.5 191.7L1206.3 195.9ZM1222.6 198.6L1219.2 195.9L1222.6 194.2L1224.4 195.9ZM1235.9 204.7L1242.8 209.6L1249.8 204.7L1248.3 195.9L1242.8 191.7L1235.0 195.9ZM1256.0 204.7L1262.9 209.6L1273.0 207.9L1279.3 204.7L1273.0 198.9L1262.9 201.6ZM1273.0 205.1L1270.2 204.7L1273.0 204.1L1273.7 204.7ZM1169.6 195.9L1172.2 197.9L1174.2 195.9L1180.2 187.0L1182.3 184.2L1192.4 179.9L1193.6 178.2L1192.4 173.7L1191.0 169.3L1182.3 165.1L1175.4 169.3L1175.3 178.2L1172.2 179.9L1167.1 178.2L1162.1 176.0L1159.7 178.2L1157.7 187.0L1162.1 191.4ZM1182.3 170.8L1181.5 169.3L1182.3 168.8L1183.2 169.3ZM1118.9 187.0L1121.8 189.7L1124.4 187.0L1121.8 184.3ZM1141.0 178.2L1141.9 179.1L1142.8 178.2L1141.9 177.5ZM1217.6 178.2L1222.6 184.4L1232.7 180.9L1234.0 178.2L1232.7 173.7L1230.3 169.3L1228.0 160.5L1227.1 151.6L1223.7 142.7L1225.1 133.9L1232.7 131.7L1242.8 127.2L1252.9 133.2L1262.5 125.0L1262.9 118.2L1265.7 125.0L1268.9 133.9L1273.0 137.2L1276.1 142.7L1273.0 146.3L1262.9 149.6L1252.9 145.0L1249.0 151.6L1251.6 160.5L1252.9 162.4L1254.2 160.5L1262.9 152.8L1271.7 160.5L1273.0 161.4L1283.1 167.1L1293.2 164.0L1297.9 160.5L1293.2 154.0L1291.0 151.6L1293.2 147.2L1294.5 142.7L1293.2 141.6L1283.1 135.6L1278.3 133.9L1283.1 130.7L1288.3 125.0L1283.1 119.3L1279.4 116.2L1283.1 110.1L1284.5 107.3L1283.1 105.2L1278.1 107.3L1273.0 109.2L1270.5 107.3L1267.5 98.5L1262.9 94.0L1256.0 89.6L1252.9 87.1L1249.4 89.6L1248.0 98.5L1250.4 107.3L1252.9 113.5L1260.7 116.2L1252.9 116.6L1242.8 119.9L1232.7 118.5L1222.6 122.3L1221.3 125.0L1219.7 133.9L1212.5 136.3L1205.4 133.9L1202.4 131.2L1195.4 125.0L1192.4 120.6L1190.4 116.2L1183.5 107.3L1182.3 105.5L1172.2 105.4L1162.1 106.2L1152.0 102.6L1141.9 105.0L1131.9 104.1L1121.8 103.3L1114.1 98.5L1111.7 96.4L1106.6 98.5L1101.6 101.1L1098.4 98.5L1093.7 89.6L1091.5 86.4L1088.5 89.6L1087.4 98.5L1091.5 104.5L1094.5 107.3L1091.5 109.0L1085.8 116.2L1089.3 125.0L1091.5 128.0L1096.6 125.0L1097.4 116.2L1101.6 111.2L1111.7 113.6L1115.0 116.2L1111.7 119.4L1104.0 125.0L1111.7 129.6L1121.8 128.2L1128.6 125.0L1131.9 120.6L1135.4 116.2L1141.9 110.5L1152.0 111.2L1159.9 116.2L1162.1 120.6L1163.3 125.0L1165.6 133.9L1162.1 136.1L1152.0 140.9L1150.0 142.7L1152.0 144.4L1158.7 151.6L1159.6 160.5L1162.1 162.6L1164.3 160.5L1172.2 153.5L1173.5 151.6L1173.6 142.7L1174.5 133.9L1181.0 125.0L1182.3 123.3L1187.3 125.0L1191.0 133.9L1192.4 138.3L1193.6 142.7L1194.3 151.6L1197.4 160.5L1202.4 161.6L1211.3 169.3L1212.5 173.7ZM1232.7 127.4L1228.6 125.0L1232.7 122.7L1239.1 125.0ZM1252.9 130.8L1243.9 125.0L1252.9 119.0L1259.7 125.0ZM1252.9 153.7L1252.1 151.6L1252.9 150.3L1255.2 151.6ZM1273.0 152.8L1271.7 151.6L1273.0 151.0L1275.5 151.6ZM1283.1 161.8L1280.8 160.5L1283.1 156.9L1286.3 160.5ZM1172.2 127.5L1170.4 125.0L1172.2 123.5L1174.0 125.0ZM1202.4 147.0L1200.7 142.7L1202.4 140.7L1212.5 142.0L1213.7 142.7L1212.5 143.4ZM1212.5 155.9L1207.7 151.6L1212.5 148.3L1218.6 151.6ZM1283.1 148.5L1280.2 142.7L1283.1 139.8L1287.7 142.7ZM1172.2 117.3L1167.1 116.2L1172.2 111.8L1174.1 116.2ZM1261.7 178.2L1262.9 178.5L1264.0 178.2L1262.9 178.0ZM1274.3 178.2L1283.1 185.4L1291.7 178.2L1283.1 170.3ZM1283.1 183.0L1277.2 178.2L1283.1 172.9L1288.9 178.2ZM1100.5 169.3L1101.6 170.0L1102.4 169.3L1101.6 168.6ZM1149.9 169.3L1152.0 171.4L1154.5 169.3L1152.0 167.1ZM1061.7 160.5L1071.3 165.2L1077.0 160.5L1071.3 156.1ZM1107.0 160.5L1111.7 164.5L1116.3 160.5L1111.7 156.7ZM1077.6 151.6L1081.4 155.5L1085.6 151.6L1081.4 147.9ZM1139.8 151.6L1141.9 154.0L1143.9 151.6L1141.9 149.9ZM1306.5 151.6L1313.4 157.0L1321.0 151.6L1315.4 142.7L1313.4 139.7L1312.1 142.7ZM1313.4 151.7L1313.2 151.6L1313.4 151.3L1313.6 151.6ZM1065.2 142.7L1071.3 147.4L1077.1 142.7L1075.5 133.9L1071.3 130.3L1061.3 132.2L1058.7 133.9L1061.3 136.5ZM1097.4 142.7L1101.6 145.9L1107.4 142.7L1101.6 138.7ZM1118.1 142.7L1121.8 144.7L1125.2 142.7L1121.8 140.9ZM1302.9 133.9L1303.3 134.2L1304.6 133.9L1303.3 132.7ZM1136.9 125.0L1141.9 127.1L1144.8 125.0L1141.9 121.9ZM1328.4 125.0L1333.5 128.9L1341.2 125.0L1341.2 116.2L1333.5 111.8L1325.9 107.3L1329.6 98.5L1323.4 91.8L1321.3 89.6L1323.4 87.0L1330.5 80.8L1333.5 79.0L1338.6 80.8L1341.4 89.6L1343.6 92.0L1345.7 89.6L1346.0 80.8L1343.6 79.0L1338.6 71.9L1333.5 67.3L1325.6 63.1L1333.5 57.8L1337.7 54.2L1333.5 50.2L1328.9 45.4L1325.5 36.5L1323.4 36.5L1313.4 36.5L1310.7 36.5L1310.6 45.4L1313.4 49.8L1316.3 54.2L1320.5 63.1L1313.4 66.8L1306.2 63.1L1303.3 60.9L1293.2 55.9L1287.5 63.1L1290.3 71.9L1293.2 76.3L1303.3 76.0L1313.4 78.7L1316.4 80.8L1313.4 82.7L1303.3 84.8L1293.2 81.9L1288.2 80.8L1283.1 78.2L1281.0 80.8L1273.0 87.8L1269.9 89.6L1273.0 92.0L1283.1 93.5L1290.8 98.5L1293.2 99.7L1303.3 99.7L1313.4 99.7L1322.1 107.3L1318.2 116.2L1323.4 121.2ZM1293.2 91.7L1290.1 89.6L1293.2 88.1L1296.3 89.6ZM1290.0 116.2L1293.2 118.1L1294.5 116.2L1293.2 115.0ZM1070.6 107.3L1071.3 108.4L1072.2 107.3L1071.3 106.2ZM1341.2 107.3L1343.6 111.8L1345.7 107.3L1343.6 105.0ZM1187.1 98.5L1192.4 101.7L1198.2 98.5L1192.4 92.4ZM1221.2 98.5L1222.6 99.3L1223.9 98.5L1223.3 89.6L1224.6 80.8L1222.6 76.3L1220.5 80.8L1221.8 89.6ZM1121.0 89.6L1121.8 90.4L1122.6 89.6L1121.8 89.0ZM1163.5 89.6L1172.2 95.4L1182.3 91.5L1185.7 89.6L1189.0 80.8L1182.3 76.5L1174.3 80.8L1172.2 82.0ZM1172.2 90.3L1171.2 89.6L1172.2 88.8L1173.5 89.6ZM1097.9 80.8L1101.6 82.7L1104.7 80.8L1106.7 71.9L1101.6 67.7L1091.5 69.3L1089.5 71.9L1091.5 75.1ZM1140.0 71.9L1141.9 73.1L1144.9 71.9L1147.5 63.1L1143.9 54.2L1141.9 52.2L1136.9 54.2L1131.9 57.3L1129.5 54.2L1124.0 45.4L1121.8 42.9L1111.7 39.2L1101.6 42.3L1098.3 45.4L1091.5 51.3L1088.3 54.2L1091.5 56.8L1101.6 56.9L1107.9 63.1L1111.7 66.7L1121.8 65.6L1131.9 65.8ZM1205.3 71.9L1212.5 75.5L1219.8 71.9L1212.5 65.5L1209.2 63.1L1202.4 59.3L1192.4 58.7L1182.3 61.4L1178.6 63.1L1182.3 64.8L1192.4 68.3L1202.4 69.0ZM1070.5 63.1L1071.3 63.9L1072.0 63.1L1071.3 62.1ZM1158.6 63.1L1162.1 65.4L1165.8 63.1L1162.1 61.2ZM1230.2 63.1L1232.7 65.5L1242.8 66.9L1248.4 63.1L1247.8 54.2L1242.8 52.3L1239.9 54.2L1232.7 60.5ZM1259.8 63.1L1262.9 64.8L1273.0 65.3L1275.4 63.1L1274.4 54.2L1273.0 52.4L1267.3 45.4L1273.0 38.3L1283.1 39.8L1285.8 36.5L1283.1 36.5L1273.0 36.5L1262.9 36.5L1252.9 36.5L1246.7 36.5L1252.9 42.6L1256.9 45.4L1254.1 54.2ZM1262.9 56.3L1261.2 54.2L1262.9 51.2L1265.3 54.2ZM1060.3 54.2L1061.3 55.0L1062.4 54.2L1061.3 53.6ZM1070.7 45.4L1071.3 46.3L1072.2 45.4L1071.3 44.5ZM1170.8 45.4L1172.2 45.7L1173.0 45.4L1172.2 44.3ZM1187.6 45.4L1192.4 49.6L1200.0 45.4L1202.4 40.9L1205.5 36.5L1202.4 36.5L1192.4 36.5L1186.9 36.5ZM1349.8 36.5L1353.7 40.4L1353.7 36.5Z" fill="#06b5cf" fill-rule="evenodd"/>
<path d="M889.1 426.1L889.8 427.2L891.2 426.1L889.8 424.9ZM1218.3 408.4L1222.6 411.0L1225.1 408.4L1222.6 405.4ZM866.9 373.0L869.7 373.9L871.3 373.0L869.7 370.1ZM888.2 373.0L889.8 373.7L890.8 373.0L891.4 364.1L889.8 362.2L885.6 364.1ZM1190.4 373.0L1192.4 374.3L1194.2 373.0L1192.4 372.3ZM899.4 355.2L899.9 355.6L901.2 355.2L899.9 354.1ZM878.8 346.4L879.8 347.2L881.4 346.4L879.8 343.4ZM926.2 346.4L930.2 351.4L934.2 346.4L930.2 340.1ZM930.2 348.9L928.2 346.4L930.2 343.2L932.2 346.4ZM916.5 328.7L920.1 331.2L924.6 328.7L920.1 325.6ZM920.1 329.0L919.6 328.7L920.1 328.3L920.7 328.7ZM969.0 328.7L970.5 330.0L980.6 335.1L990.7 332.1L994.8 328.7L990.7 326.4L983.8 319.8L980.6 317.4L970.5 315.2L960.4 313.3L953.8 319.8L960.4 326.3ZM980.6 330.8L976.9 328.7L970.5 323.5L960.4 323.4L956.7 319.8L960.4 316.2L970.5 318.1L980.6 319.2L981.4 319.8L990.7 328.6L990.9 328.7L990.7 328.8ZM957.4 293.3L960.4 296.1L964.4 293.3L960.4 290.4ZM960.4 293.4L960.3 293.3L960.4 293.1L960.6 293.3ZM985.1 293.3L990.7 298.1L995.5 293.3L990.7 287.0ZM990.7 295.7L987.8 293.3L990.7 290.1L993.1 293.3ZM849.5 284.4L849.5 286.2L850.0 284.4L850.5 275.6L851.1 266.7L849.5 265.3L849.5 266.7L849.5 275.6ZM937.2 284.4L940.3 285.9L941.4 284.4L943.5 275.6L940.3 273.5L936.8 275.6ZM1159.5 231.3L1162.1 232.8L1164.0 231.3L1162.1 230.0ZM1237.4 231.3L1242.8 235.2L1245.5 231.3L1242.8 227.2ZM1200.8 222.4L1202.4 223.9L1204.9 222.4L1202.4 221.0ZM1271.3 222.4L1273.0 224.1L1276.2 222.4L1283.1 217.6L1284.1 213.6L1283.1 209.9L1273.0 210.7L1266.0 213.6ZM1273.0 213.8L1272.9 213.6L1273.0 213.5L1273.3 213.6ZM1210.9 213.6L1212.5 215.8L1216.0 213.6L1212.5 212.2ZM1230.4 213.6L1232.7 214.4L1235.0 213.6L1232.7 212.2ZM1300.8 204.7L1303.3 208.9L1304.9 204.7L1303.3 202.5ZM1259.9 195.9L1262.9 196.9L1266.4 195.9L1273.0 190.1L1277.3 187.0L1273.0 184.5L1262.9 184.3L1257.8 187.0ZM1285.4 187.0L1293.2 193.9L1303.3 188.4L1305.2 187.0L1313.4 183.2L1318.6 178.2L1313.4 173.6L1305.8 169.3L1303.3 166.4L1299.0 169.3L1295.9 178.2L1293.2 180.9ZM1293.2 187.5L1292.6 187.0L1293.2 186.6L1294.0 187.0ZM1303.3 180.4L1301.6 178.2L1303.3 175.7L1308.3 178.2ZM1200.8 178.2L1202.4 180.5L1204.6 178.2L1204.1 169.3L1202.4 167.9L1200.3 169.3ZM1241.2 178.2L1242.8 181.7L1245.4 178.2L1242.8 174.4ZM1255.3 169.3L1262.9 174.1L1273.0 173.6L1277.8 169.3L1273.0 166.5L1263.9 160.5L1262.9 159.6L1262.0 160.5ZM1262.9 170.3L1261.4 169.3L1262.9 167.3L1266.5 169.3ZM1178.2 160.5L1182.3 161.4L1184.6 160.5L1183.6 151.6L1183.4 142.7L1183.1 133.9L1182.3 132.9L1181.6 133.9L1181.5 142.7L1181.3 151.6ZM1238.9 160.5L1242.8 164.2L1244.4 160.5L1245.9 151.6L1242.8 145.4L1235.8 151.6ZM1242.8 151.9L1242.6 151.6L1242.8 151.4L1242.9 151.6ZM1342.6 151.6L1343.6 152.2L1346.6 151.6L1343.6 149.1ZM1301.7 142.7L1303.3 145.4L1304.9 142.7L1303.3 141.2ZM1235.8 133.9L1242.8 140.2L1248.9 133.9L1242.8 130.5ZM1242.8 134.2L1242.4 133.9L1242.8 133.7L1243.1 133.9ZM1290.5 133.9L1293.2 135.3L1295.0 133.9L1293.2 130.4ZM1321.8 133.9L1323.4 136.5L1326.5 133.9L1323.4 132.1ZM1209.7 125.0L1212.5 127.5L1214.1 125.0L1217.0 116.2L1217.5 107.3L1212.5 103.8L1202.4 102.8L1192.4 106.3L1190.7 107.3L1192.4 109.2L1200.3 116.2L1202.4 118.6ZM1301.7 116.2L1303.3 118.4L1307.1 116.2L1313.4 109.5L1314.3 107.3L1313.4 106.5L1303.3 106.5L1293.2 106.5L1292.2 107.3L1293.2 108.2ZM1240.2 107.3L1242.8 110.0L1244.2 107.3L1242.8 103.4ZM1159.2 98.5L1162.1 99.9L1165.8 98.5L1162.1 96.6ZM1139.9 80.8L1141.9 82.4L1145.1 80.8L1141.9 79.9ZM1238.4 80.8L1242.8 83.0L1245.7 80.8L1242.8 77.5ZM1249.1 71.9L1252.9 74.5L1257.3 71.9L1252.9 69.6ZM1166.9 54.2L1172.2 57.3L1178.2 54.2L1172.2 51.9ZM1282.1 54.2L1283.1 56.2L1284.4 54.2L1283.1 52.9Z" fill="#b4c534" fill-rule="evenodd"/>
<path d="M928.2 346.4L930.2 348.9L932.2 346.4L930.2 343.2ZM930.2 346.5L930.1 346.4L930.2 346.3L930.2 346.4ZM919.6 328.7L920.1 329.0L920.7 328.7L920.1 328.3ZM976.9 328.7L980.6 330.8L990.7 328.8L990.9 328.7L990.7 328.6L981.4 319.8L980.6 319.2L970.5 318.1L960.4 316.2L956.7 319.8L960.4 323.4L970.5 323.5ZM960.4 320.5L959.7 319.8L960.4 319.1L964.3 319.8ZM960.3 293.3L960.4 293.4L960.6 293.3L960.4 293.1ZM987.8 293.3L990.7 295.7L993.1 293.3L990.7 290.1ZM990.7 293.3L990.6 293.3L990.7 293.2L990.7 293.3ZM1272.9 213.6L1273.0 213.8L1273.3 213.6L1273.0 213.5ZM1292.6 187.0L1293.2 187.5L1294.0 187.0L1293.2 186.6ZM1301.6 178.2L1303.3 180.4L1308.3 178.2L1303.3 175.7ZM1261.4 169.3L1262.9 170.3L1266.5 169.3L1262.9 167.3ZM1242.6 151.6L1242.8 151.9L1242.9 151.6L1242.8 151.4ZM1242.4 133.9L1242.8 134.2L1243.1 133.9L1242.8 133.7Z" fill="#fec537" fill-rule="evenodd"/>
<path d="M930.1 346.4L930.2 346.5L930.2 346.4L930.2 346.3ZM959.7 319.8L960.4 320.5L964.3 319.8L960.4 319.1ZM990.6 293.3L990.7 293.3L990.7 293.3L990.7 293.2Z" fill="#f9fb15" fill-rule="evenodd"/>
<path d="M980.6 275.7L980.4 275.6L980.6 275.1L980.8 275.6ZM930.2 373.2L929.3 373.0L928.7 364.1L930.2 363.6L936.2 364.1L930.6 373.0ZM970.5 373.3L970.1 373.0L970.5 372.1L971.2 373.0ZM950.3 355.9L950.0 355.2L950.3 354.7L951.5 355.2ZM899.9 337.7L899.7 337.5L899.9 337.4L900.8 337.5ZM899.9 312.2L898.8 311.0L899.9 309.3L901.1 311.0ZM950.3 285.2L950.0 284.4L950.3 283.9L951.1 284.4ZM980.6 278.4L977.5 275.6L980.6 266.7L980.6 266.7L980.6 266.7L984.2 275.6ZM990.7 258.1L990.5 257.9L990.7 257.6L990.9 257.9ZM1283.1 178.3L1283.0 178.2L1283.1 178.0L1283.3 178.2ZM1252.9 126.2L1251.1 125.0L1252.9 123.8L1254.2 125.0ZM950.3 444.1L949.7 443.8L950.3 443.2L950.6 443.8ZM960.4 400.8L957.1 399.5L951.3 390.7L960.1 381.8L960.4 381.4L960.8 381.8L970.5 390.3L975.5 390.7L970.5 391.0L961.5 399.5ZM1000.8 399.8L1000.6 399.5L1000.8 399.0L1000.9 399.5ZM940.3 382.3L938.8 381.8L930.2 378.6L920.1 378.4L916.1 373.0L917.1 364.1L920.1 363.2L930.2 360.2L940.3 361.0L946.3 355.2L950.3 348.8L954.9 346.4L960.0 337.5L960.4 337.1L960.9 337.5L964.1 346.4L961.5 355.2L970.5 363.7L971.5 364.1L978.0 373.0L970.5 377.2L965.6 373.0L960.4 366.8L954.2 364.1L950.3 362.1L947.7 364.1L940.3 372.5L939.8 373.0L940.3 375.9L941.0 381.8ZM990.7 385.8L988.6 381.8L984.9 373.0L990.7 368.3L995.5 373.0L994.8 381.8ZM899.9 365.6L899.5 364.1L899.9 363.7L902.9 364.1ZM1010.8 355.4L1010.7 355.2L1010.8 355.1L1011.0 355.2ZM920.1 347.0L913.4 346.4L910.0 345.6L899.9 340.4L895.8 337.5L899.9 333.8L910.0 334.3L919.2 337.5L920.1 340.5L920.3 346.4ZM940.3 346.9L940.1 346.4L940.3 346.0L942.3 346.4ZM940.3 329.5L938.9 328.7L940.3 326.3L941.2 328.7ZM899.9 316.3L895.2 311.0L899.9 303.8L905.0 311.0ZM980.6 311.9L978.2 311.0L980.6 308.7L990.7 308.5L993.3 311.0L990.7 319.0ZM950.3 290.3L947.9 284.4L950.3 280.6L956.4 284.4ZM920.1 276.3L919.2 275.6L920.1 274.8L921.2 275.6ZM980.6 281.0L974.6 275.6L976.6 266.7L980.6 263.0L986.4 266.7L987.7 275.6ZM899.9 258.0L899.4 257.9L899.9 257.7L900.2 257.9ZM990.7 263.0L986.4 257.9L990.7 253.0L994.5 257.9ZM930.2 252.7L925.9 249.0L930.2 244.8L934.2 249.0ZM1283.1 180.6L1280.1 178.2L1283.1 175.5L1286.1 178.2ZM1252.9 128.5L1247.5 125.0L1252.9 121.4L1257.0 125.0ZM940.3 454.4L939.6 452.6L937.2 443.8L940.3 440.1L945.3 434.9L940.3 430.2L930.2 427.8L927.4 426.1L930.2 422.8L940.3 423.1L950.3 423.3L952.1 426.1L954.6 434.9L956.8 443.8L950.3 449.8L942.3 452.6ZM980.6 444.6L979.6 443.8L976.1 434.9L980.6 433.4L983.6 434.9L981.7 443.8ZM1000.8 436.3L999.0 434.9L1000.8 433.1L1010.8 432.3L1011.9 434.9L1010.8 436.7ZM970.5 420.3L967.3 417.2L960.4 410.0L958.8 408.4L950.3 404.0L941.9 408.4L940.3 409.9L938.4 408.4L936.0 399.5L940.3 397.5L944.9 390.7L940.3 386.9L930.2 385.2L923.9 390.7L926.0 399.5L920.1 404.1L910.0 403.0L908.5 399.5L907.5 390.7L910.0 389.3L916.8 381.8L910.0 374.3L899.9 374.2L898.9 373.0L896.8 364.1L899.9 361.0L910.0 361.0L920.1 357.5L930.2 356.8L940.3 357.5L942.7 355.2L940.3 351.9L938.1 346.4L940.3 342.5L950.3 343.4L955.5 337.5L960.4 333.3L965.3 337.5L970.5 345.5L971.5 346.4L970.5 347.2L965.6 355.2L970.5 359.8L980.6 362.0L990.7 361.6L1000.8 362.0L1003.1 364.1L1010.8 370.3L1015.6 373.0L1010.8 377.6L1007.3 381.8L1007.2 390.7L1007.8 399.5L1010.8 404.7L1020.9 405.6L1024.1 408.4L1020.9 411.7L1010.8 412.1L1000.8 409.8L997.6 408.4L993.1 399.5L990.7 396.6L986.2 399.5L985.5 408.4L980.6 410.7L973.2 417.2ZM879.8 401.4L878.8 399.5L872.4 390.7L879.8 385.0L883.3 390.7L881.2 399.5ZM969.0 399.5L970.5 403.4L973.9 399.5L970.5 398.1ZM889.8 383.5L885.4 381.8L889.8 380.6L891.7 381.8ZM947.9 381.8L950.3 384.2L952.9 381.8L950.3 377.9ZM968.9 381.8L970.5 383.2L980.6 383.0L981.6 381.8L980.6 380.1L970.5 381.0ZM957.9 373.0L960.4 374.1L961.1 373.0L960.4 372.1ZM1020.9 366.2L1019.6 364.1L1020.9 362.6L1022.5 364.1ZM859.6 360.8L856.5 355.2L859.6 351.9L866.6 355.2ZM879.8 356.1L876.8 355.2L879.8 354.8L889.8 354.1L890.4 355.2L889.8 355.7ZM1010.8 360.1L1005.3 355.2L1010.8 350.0L1017.1 355.2ZM869.7 349.0L868.7 346.4L869.7 345.8L870.2 346.4ZM910.0 350.3L905.5 346.4L899.9 343.2L891.9 337.5L899.9 330.2L907.7 328.7L910.0 326.2L910.4 328.7L920.1 335.5L924.6 337.5L922.3 346.4L920.1 352.9ZM1020.9 348.9L1018.2 346.4L1015.0 337.5L1019.2 328.7L1010.8 322.4L1009.1 319.8L1010.8 318.7L1019.6 311.0L1020.9 309.8L1024.8 311.0L1023.2 319.8L1021.9 328.7L1031.0 336.0L1035.5 337.5L1031.0 341.0L1024.9 346.4ZM1000.8 339.1L996.5 337.5L1000.8 334.5L1005.6 337.5ZM940.3 332.8L933.4 328.7L935.7 319.8L930.2 314.4L928.4 311.0L930.2 309.4L937.4 302.1L930.2 294.8L927.8 293.3L930.2 291.2L940.3 291.7L945.7 284.4L950.3 277.3L960.4 281.5L964.2 284.4L960.4 285.1L951.6 293.3L960.4 301.4L965.2 302.1L960.4 303.7L950.3 305.0L942.9 311.0L943.1 319.8L945.0 328.7ZM879.8 321.1L875.3 319.8L869.7 315.6L865.6 311.0L869.7 307.3L879.8 308.0L885.2 311.0L884.6 319.8ZM899.9 321.9L896.8 319.8L891.6 311.0L894.3 302.1L899.9 298.1L907.7 293.3L906.1 284.4L910.0 282.7L911.8 284.4L912.3 293.3L920.1 300.1L921.9 302.1L920.1 303.7L910.0 308.4L908.9 311.0L902.7 319.8ZM920.1 320.2L917.3 319.8L920.1 319.0L922.5 319.8ZM990.7 321.9L988.4 319.8L980.6 313.7L973.3 311.0L980.6 304.1L990.7 303.6L994.1 302.1L1000.2 293.3L1000.8 290.7L1004.4 293.3L1005.5 302.1L1000.8 307.4L998.7 311.0L995.2 319.8ZM1051.2 323.9L1049.8 319.8L1051.2 316.0L1054.0 319.8ZM1031.0 305.6L1029.6 302.1L1031.0 299.5L1041.1 297.5L1051.2 298.8L1054.4 302.1L1051.2 305.9L1041.1 308.5ZM859.6 285.6L858.5 284.4L859.6 282.4L861.4 284.4ZM1020.9 288.3L1013.9 284.4L1010.8 281.8L1000.8 277.1L990.7 276.4L980.6 283.7L971.7 275.6L972.5 266.7L980.6 259.4L982.3 257.9L988.8 249.0L990.7 247.0L991.6 249.0L998.2 257.9L992.4 266.7L1000.8 274.7L1010.8 271.1L1017.9 275.6L1020.9 278.3L1023.7 284.4ZM899.9 279.0L897.1 275.6L899.9 272.4L901.9 275.6ZM920.1 280.0L914.7 275.6L920.1 270.8L926.5 275.6ZM879.8 270.8L877.4 266.7L876.7 257.9L879.8 255.1L888.0 249.0L889.8 246.8L892.0 249.0L899.9 251.7L903.9 249.0L903.0 240.1L910.0 235.2L915.2 240.1L920.1 246.1L926.0 240.1L930.2 238.3L940.3 236.2L945.6 240.1L944.5 249.0L940.3 251.5L933.4 257.9L930.2 262.2L920.1 259.6L910.0 260.8L899.9 264.0L889.8 264.0L884.7 266.7ZM940.3 267.5L935.8 266.7L940.3 264.2L943.7 266.7ZM960.4 269.6L957.0 266.7L960.4 263.5L963.8 266.7ZM1031.0 268.3L1029.2 266.7L1026.0 257.9L1031.0 253.5L1033.9 257.9L1041.1 265.2L1043.4 266.7L1041.1 267.8ZM950.3 259.7L948.7 257.9L950.3 255.5L952.5 257.9ZM970.5 243.4L964.7 240.1L970.5 235.5L975.7 231.3L980.6 228.4L990.7 228.7L993.7 231.3L990.7 234.5L982.8 240.1L980.6 241.8ZM950.3 235.6L946.3 231.3L950.3 223.2L951.6 222.4L950.3 221.7L947.2 213.6L950.3 209.9L954.5 213.6L960.4 219.7L964.9 222.4L963.3 231.3L960.4 234.2ZM1020.9 235.4L1017.3 231.3L1020.9 228.2L1023.7 231.3ZM1041.1 235.9L1035.9 231.3L1041.1 226.6L1046.8 231.3ZM899.9 225.2L897.1 222.4L899.9 219.6L910.0 220.2L920.1 216.8L930.2 218.1L936.0 222.4L930.2 224.4L920.1 227.7L910.0 226.0ZM1020.9 216.7L1016.1 213.6L1020.9 210.9L1025.6 213.6ZM1293.2 215.6L1292.7 213.6L1293.2 212.8L1293.9 213.6ZM899.9 208.7L896.0 204.7L899.9 200.9L910.0 201.6L913.4 204.7L910.0 206.3ZM960.4 208.6L956.0 204.7L960.4 200.3L970.5 201.3L972.3 204.7L970.5 207.6ZM1273.0 205.1L1270.2 204.7L1273.0 204.1L1273.7 204.7ZM889.8 198.2L886.8 195.9L889.8 192.3L892.9 195.9ZM950.3 197.1L947.4 195.9L950.3 194.2L952.1 195.9ZM1222.6 198.6L1219.2 195.9L1222.6 194.2L1224.4 195.9ZM1283.1 183.0L1277.2 178.2L1283.1 172.9L1288.9 178.2ZM1182.3 170.8L1181.5 169.3L1182.3 168.8L1183.2 169.3ZM1283.1 161.8L1280.8 160.5L1283.1 156.9L1286.3 160.5ZM1252.9 153.7L1252.1 151.6L1252.9 150.3L1255.2 151.6ZM1273.0 152.8L1271.7 151.6L1273.0 151.0L1275.5 151.6ZM1313.4 151.7L1313.2 151.6L1313.4 151.3L1313.6 151.6ZM1202.4 147.0L1200.7 142.7L1202.4 140.7L1212.5 142.0L1213.7 142.7L1212.5 143.4ZM1283.1 148.5L1280.2 142.7L1283.1 139.8L1287.7 142.7ZM1172.2 127.5L1170.4 125.0L1172.2 123.5L1174.0 125.0ZM1232.7 127.4L1228.6 125.0L1232.7 122.7L1239.1 125.0ZM1252.9 130.8L1243.9 125.0L1252.9 119.0L1259.7 125.0ZM1172.2 90.3L1171.2 89.6L1172.2 88.8L1173.5 89.6ZM1293.2 91.7L1290.1 89.6L1293.2 88.1L1296.3 89.6ZM1262.9 56.3L1261.2 54.2L1262.9 51.2L1265.3 54.2ZM849.5 474.0L859.6 474.4L865.7 470.3L859.6 466.6L849.5 467.0M967.9 479.2L964.9 470.3L963.9 461.5L960.4 458.9L950.3 457.6L945.9 461.5L950.3 467.6L953.2 470.3L950.3 474.8L940.3 476.8L930.2 477.2L920.1 473.1L917.9 470.3L910.0 463.4L907.5 461.5L910.0 457.1L912.1 452.6L910.0 450.6L905.0 452.6L899.9 454.9L889.8 457.8L883.2 461.5L879.8 463.7L873.7 470.3L876.8 479.2M998.5 479.2L996.8 470.3L1000.8 464.6L1003.4 461.5L1000.8 458.8L995.3 452.6L992.1 443.8L990.7 442.8L990.2 443.8L980.6 451.4L978.5 452.6L973.8 461.5L976.1 470.3L973.4 479.2M1028.6 479.2L1029.1 470.3L1031.0 467.6L1033.3 470.3L1033.7 479.2M1046.5 479.2L1046.2 470.3L1041.1 463.5L1038.0 461.5L1041.1 458.9L1051.2 456.7L1056.0 452.6L1056.0 443.8L1053.4 434.9L1061.3 428.0L1069.2 434.9L1071.3 439.4L1074.9 443.8L1071.3 446.8L1067.4 452.6L1068.8 461.5L1071.3 463.7L1073.6 461.5L1081.4 454.7L1083.9 452.6L1091.5 448.0L1101.6 447.5L1111.7 446.5L1118.7 452.6L1121.8 455.7L1128.3 461.5L1131.9 464.5L1141.9 468.6L1152.0 465.9L1159.6 461.5L1162.1 457.1L1164.2 452.6L1162.1 448.2L1152.0 445.5L1141.9 450.8L1135.6 443.8L1133.9 434.9L1131.9 432.4L1121.8 431.8L1119.8 434.9L1111.7 442.0L1101.6 437.3L1098.9 434.9L1091.5 429.9L1081.4 433.0L1073.5 426.1L1071.3 421.6L1069.2 417.2L1071.3 415.3L1074.6 417.2L1081.4 420.4L1091.5 423.1L1098.6 417.2L1091.5 410.1L1081.4 411.2L1079.2 408.4L1081.4 403.9L1091.5 403.9L1096.6 399.5L1101.6 397.1L1104.8 399.5L1111.7 405.6L1118.6 399.5L1121.8 395.1L1123.9 390.7L1121.8 386.2L1116.7 390.7L1111.7 393.5L1109.0 390.7L1111.7 386.2L1116.7 381.8L1111.7 380.0L1106.5 373.0L1101.6 368.0L1094.1 364.1L1096.6 355.2L1101.6 350.8L1105.0 346.4L1101.6 344.5L1093.7 337.5L1101.6 330.6L1106.6 328.7L1111.7 326.1L1121.8 326.1L1125.7 319.8L1131.9 314.6L1141.9 313.8L1146.7 311.0L1141.9 307.4L1136.3 302.1L1131.9 296.1L1121.8 297.0L1111.7 298.6L1101.6 300.2L1099.7 302.1L1094.8 311.0L1091.5 315.4L1086.5 319.8L1081.4 321.6L1079.1 319.8L1071.3 315.6L1065.0 319.8L1071.3 326.7L1073.4 328.7L1071.3 330.8L1063.7 337.5L1067.1 346.4L1067.0 355.2L1071.3 360.3L1077.9 364.1L1075.9 373.0L1077.8 381.8L1078.9 390.7L1076.4 399.5L1071.3 401.5L1068.8 399.5L1061.3 395.6L1055.6 390.7L1057.1 381.8L1051.2 377.0L1045.8 381.8L1044.9 390.7L1051.2 395.9L1055.2 399.5L1061.3 406.2L1063.5 408.4L1061.3 410.3L1055.2 417.2L1051.2 421.0L1046.0 426.1L1049.0 434.9L1041.1 441.8L1038.8 443.8L1031.0 450.7L1029.0 452.6L1025.5 461.5L1020.9 464.2L1010.8 466.3L1005.2 470.3L1004.4 479.2M1098.1 470.3L1101.6 472.2L1104.7 470.3L1101.6 468.0ZM1342.5 470.3L1343.6 471.1L1344.4 470.3L1343.6 469.5ZM925.7 461.5L930.2 465.6L935.3 461.5L934.2 452.6L930.2 447.0L924.9 452.6ZM1262.9 465.9L1260.8 461.5L1257.3 452.6L1262.9 447.1L1267.0 443.8L1270.7 434.9L1273.0 433.2L1275.3 434.9L1279.6 443.8L1283.1 449.6L1286.6 452.6L1283.1 454.5L1273.0 455.8L1265.2 461.5ZM849.5 454.5L859.6 454.3L869.7 454.4L871.6 452.6L869.7 448.2L867.0 443.8L869.7 442.0L879.8 438.1L889.8 437.0L899.9 437.3L910.0 439.0L914.6 434.9L910.0 430.5L902.6 426.1L899.9 423.3L893.0 417.2L892.2 408.4L889.8 404.7L887.4 408.4L887.7 417.2L883.0 426.1L879.8 431.6L869.7 429.9L865.4 426.1L859.6 419.0L855.9 417.2L857.4 408.4L859.6 405.6L869.7 401.3L871.0 399.5L869.7 397.8L864.2 390.7L861.2 381.8L869.7 377.9L878.5 373.0L879.8 368.5L881.0 373.0L889.8 377.2L894.8 373.0L894.1 364.1L889.8 358.9L879.8 362.9L869.7 360.3L864.9 364.1L859.6 369.3L852.9 364.1L852.0 355.2L859.6 347.2L860.9 346.4L859.6 342.0L856.7 337.5L853.9 328.7L856.7 319.8L855.5 311.0L857.3 302.1L859.6 300.2L867.4 293.3L859.6 290.3L854.3 284.4L858.2 275.6L859.6 272.7L866.4 266.7L859.6 263.8L852.8 257.9L856.9 249.0L856.4 240.1L856.0 231.3L855.5 222.4L853.0 213.6L859.6 208.7L867.3 204.7L866.5 195.9L869.7 191.4L872.2 187.0L869.7 183.9L859.6 180.0L857.6 178.2L859.6 175.6L866.7 169.3L859.6 166.1L853.9 160.5L857.2 151.6L854.1 142.7L854.7 133.9L854.5 125.0L859.6 118.8L861.6 116.2L869.7 109.1L874.7 107.3L869.7 105.0L859.6 103.8L853.9 98.5L857.5 89.6L859.6 86.8L869.7 85.5L875.4 80.8L877.7 71.9L871.7 63.1L869.7 60.0L859.6 58.6L856.0 63.1L849.5 68.4M1212.5 457.0L1208.4 452.6L1212.5 448.7L1222.6 450.6L1225.8 452.6L1222.6 455.7ZM1353.7 458.4L1351.0 461.5L1353.7 463.4M967.4 443.8L970.5 445.6L971.9 443.8L970.5 442.0ZM1242.8 445.5L1239.2 443.8L1238.8 434.9L1242.8 431.4L1252.9 432.6L1255.2 434.9L1252.9 438.2L1246.5 443.8ZM1293.2 446.9L1289.7 443.8L1293.2 441.9L1303.3 439.4L1305.2 443.8L1303.3 445.6ZM929.4 434.9L930.2 435.9L930.9 434.9L930.2 434.6ZM1020.5 434.9L1020.9 436.0L1022.3 434.9L1020.9 434.1ZM1150.0 434.9L1152.0 439.4L1154.0 434.9L1152.0 430.5ZM1212.5 439.7L1206.0 434.9L1212.5 429.7L1219.8 426.1L1222.6 423.6L1226.2 426.1L1225.1 434.9L1222.6 437.0ZM959.2 426.1L960.4 428.3L962.9 426.1L960.4 423.6ZM978.1 426.1L980.6 427.2L990.7 428.8L993.2 426.1L990.7 424.1L980.6 422.9ZM1262.9 428.1L1260.3 426.1L1262.9 423.4L1264.9 426.1ZM1338.6 426.1L1343.6 430.3L1348.8 426.1L1343.6 422.2ZM906.9 417.2L910.0 419.5L912.7 417.2L910.0 415.2ZM1242.8 421.1L1238.2 417.2L1242.8 413.7L1247.2 417.2ZM1283.1 422.5L1278.0 417.2L1283.1 412.5L1287.9 417.2ZM1303.3 410.3L1301.1 408.4L1303.3 405.9L1305.4 408.4ZM1340.1 408.4L1343.6 410.2L1346.3 408.4L1343.6 405.3ZM893.4 399.5L899.9 403.4L902.6 399.5L899.9 393.8L896.3 390.7L889.8 388.4L887.8 390.7L889.8 396.4ZM1202.4 403.8L1196.5 399.5L1202.4 394.8L1210.3 390.7L1202.4 383.8L1198.8 381.8L1202.4 379.2L1206.3 373.0L1212.5 367.7L1218.3 373.0L1218.0 381.8L1222.6 387.0L1226.0 390.7L1222.6 394.2L1213.4 399.5L1212.5 400.1ZM1273.0 400.3L1271.8 399.5L1273.0 399.0L1273.7 399.5ZM1293.2 403.6L1288.8 399.5L1292.2 390.7L1293.2 390.0L1294.6 390.7L1298.7 399.5ZM1313.4 403.9L1307.5 399.5L1313.4 392.6L1318.1 399.5ZM1262.9 393.6L1261.0 390.7L1261.8 381.8L1262.9 380.9L1264.0 381.8L1264.9 390.7ZM1323.4 392.4L1318.4 390.7L1313.4 388.7L1303.3 385.0L1301.2 381.8L1293.2 374.8L1291.3 373.0L1290.0 364.1L1285.1 355.2L1283.1 352.8L1273.0 353.1L1265.3 346.4L1262.9 343.5L1261.0 346.4L1255.0 355.2L1252.9 357.6L1245.4 364.1L1242.8 366.1L1239.2 364.1L1239.6 355.2L1242.8 353.4L1247.6 346.4L1247.9 337.5L1242.8 333.7L1232.7 335.9L1230.6 337.5L1222.6 341.7L1215.7 337.5L1222.6 333.4L1227.6 328.7L1232.7 323.5L1240.3 319.8L1242.8 317.4L1245.8 319.8L1252.9 323.6L1262.9 326.6L1273.0 326.8L1283.1 324.2L1293.2 323.9L1301.0 319.8L1303.3 317.4L1305.5 319.8L1313.4 324.9L1320.7 328.7L1323.4 330.4L1328.5 328.7L1333.5 327.0L1336.7 328.7L1343.6 334.8L1346.4 337.5L1343.6 339.2L1333.5 342.5L1326.5 346.4L1323.4 348.1L1313.4 352.8L1311.0 355.2L1306.9 364.1L1313.4 369.7L1316.5 373.0L1319.2 381.8L1323.4 388.2L1325.7 390.7ZM896.9 381.8L899.9 388.0L910.0 384.0L912.0 381.8L910.0 379.6L899.9 379.0ZM1028.9 381.8L1031.0 383.9L1034.3 381.8L1031.0 379.4ZM1126.8 381.8L1131.9 383.7L1134.4 381.8L1136.9 373.0L1141.9 370.4L1147.0 364.1L1152.0 360.7L1162.1 359.9L1170.0 355.2L1162.1 350.0L1157.4 346.4L1152.0 341.2L1147.6 346.4L1143.9 355.2L1141.9 357.8L1139.4 355.2L1131.9 348.6L1126.8 346.4L1126.0 337.5L1121.8 330.9L1111.7 333.1L1109.5 337.5L1111.7 340.5L1118.4 346.4L1111.7 352.3L1106.6 355.2L1111.7 357.1L1121.8 360.9L1131.9 361.9L1134.8 364.1L1131.9 368.5L1129.6 373.0ZM1057.9 373.0L1061.3 376.2L1063.9 373.0L1061.3 370.4ZM1157.1 373.0L1162.1 375.4L1167.1 373.0L1162.1 370.8ZM1273.0 375.6L1270.2 373.0L1262.9 366.6L1260.3 364.1L1262.9 362.2L1273.0 358.4L1276.2 364.1L1274.9 373.0ZM1192.4 367.2L1185.8 364.1L1190.1 355.2L1192.4 353.5L1194.6 355.2L1198.2 364.1ZM1333.5 366.5L1331.0 364.1L1329.1 355.2L1333.5 350.2L1339.2 355.2L1336.4 364.1ZM894.9 355.2L899.9 358.3L910.0 356.1L912.3 355.2L910.0 354.5L900.8 346.4L899.9 345.9L894.9 346.4ZM969.8 355.2L970.5 355.9L972.8 355.2L970.5 354.1ZM986.6 355.2L990.7 357.1L997.7 355.2L1000.8 350.8L1004.4 346.4L1000.8 345.3L990.7 344.5L984.5 337.5L990.7 335.4L998.7 328.7L990.7 324.1L986.1 319.8L980.6 315.5L970.5 312.2L963.3 311.0L960.4 309.9L950.3 310.1L949.2 311.0L950.3 315.4L950.9 319.8L950.3 322.5L948.8 328.7L940.3 336.1L930.2 334.8L929.3 337.5L924.2 346.4L930.2 353.9L936.1 346.4L940.3 339.0L950.3 338.4L951.1 337.5L960.4 329.4L969.7 337.5L970.5 338.7L979.2 346.4L980.6 348.4ZM1027.8 355.2L1031.0 358.4L1041.1 359.2L1045.5 355.2L1051.2 348.1L1053.4 346.4L1051.2 344.6L1041.1 342.3L1036.1 346.4L1031.0 353.3ZM1212.5 360.1L1207.6 355.2L1212.5 350.0L1222.6 353.5L1225.8 355.2L1222.6 358.0ZM874.5 346.4L879.8 351.0L888.6 346.4L885.3 337.5L884.4 328.7L879.8 326.4L872.5 328.7L869.7 330.5L861.6 337.5L869.7 340.9ZM1081.4 350.8L1078.6 346.4L1081.4 343.8L1084.7 346.4ZM1202.4 348.4L1200.5 346.4L1202.4 344.1L1205.6 346.4ZM1140.0 337.5L1141.9 339.5L1145.3 337.5L1141.9 334.9ZM1301.9 337.5L1303.3 338.7L1304.2 337.5L1303.3 336.8ZM913.5 328.7L920.1 333.3L928.6 328.7L920.1 322.9ZM1029.7 328.7L1031.0 329.8L1033.4 328.7L1041.1 324.3L1044.3 319.8L1041.1 315.9L1031.0 316.4L1028.9 319.8ZM999.9 319.8L1000.8 322.1L1002.0 319.8L1000.8 317.9ZM1343.6 322.6L1341.7 319.8L1333.5 313.7L1323.4 314.3L1317.9 311.0L1323.4 307.4L1331.3 302.1L1333.5 300.4L1336.1 302.1L1343.6 308.7L1346.8 311.0L1346.7 319.8ZM918.1 311.0L920.1 312.2L921.3 311.0L920.1 309.9ZM1005.5 311.0L1010.8 314.2L1014.5 311.0L1010.8 305.0ZM1222.6 312.8L1220.5 311.0L1212.5 303.9L1209.6 302.1L1210.5 293.3L1212.5 291.3L1214.5 293.3L1222.6 298.6L1232.7 298.5L1237.5 302.1L1235.4 311.0L1232.7 313.1ZM1252.9 315.8L1247.7 311.0L1252.9 305.9L1262.9 309.2L1273.0 305.6L1278.1 311.0L1273.0 315.4L1262.9 313.1ZM877.2 302.1L879.8 303.0L882.6 302.1L879.8 299.4ZM928.9 302.1L930.2 303.2L931.2 302.1L930.2 301.0ZM1014.5 302.1L1020.9 305.0L1024.2 302.1L1020.9 296.9ZM1066.4 302.1L1071.3 305.7L1078.3 302.1L1081.4 299.0L1091.5 297.3L1096.5 293.3L1091.5 286.4L1081.4 290.0L1075.0 293.3L1071.3 296.0ZM1283.1 305.6L1278.2 302.1L1283.1 297.4L1287.2 302.1ZM954.5 293.3L960.4 298.8L968.1 293.3L960.4 287.8ZM982.3 293.3L990.7 300.5L997.8 293.3L993.8 284.4L990.7 283.2L988.7 284.4ZM1192.4 297.6L1187.9 293.3L1192.4 288.1L1196.4 293.3ZM1293.2 295.3L1289.9 293.3L1289.6 284.4L1293.2 281.7L1303.3 279.8L1311.3 275.6L1313.4 273.6L1316.4 275.6L1323.4 280.6L1327.1 284.4L1325.4 293.3L1323.4 295.2L1321.2 293.3L1313.4 287.4L1308.9 293.3L1303.3 298.9ZM868.4 284.4L869.7 288.8L871.8 284.4L869.7 282.3ZM918.8 284.4L920.1 288.8L925.1 284.4L920.1 283.8ZM931.2 284.4L940.3 288.8L943.5 284.4L948.1 275.6L940.3 270.5L931.7 275.6ZM1029.9 284.4L1031.0 287.1L1034.2 284.4L1041.1 281.4L1047.5 275.6L1041.1 272.2L1031.0 274.5L1029.2 275.6ZM1053.6 284.4L1061.3 288.5L1067.4 284.4L1071.3 280.2L1075.7 275.6L1071.3 272.5L1067.0 275.6L1061.3 279.9ZM1109.1 284.4L1111.7 286.8L1115.1 284.4L1111.7 281.2ZM1222.6 287.7L1218.5 284.4L1216.9 275.6L1222.6 270.6L1227.9 275.6L1232.7 282.1L1234.7 284.4L1232.7 286.6ZM1273.0 287.3L1270.6 284.4L1273.0 282.3L1275.3 284.4ZM909.6 275.6L910.0 275.9L910.2 275.6L910.0 274.7ZM1085.6 275.6L1091.5 282.7L1097.6 275.6L1097.7 266.7L1091.5 260.2L1083.7 257.9L1081.4 256.9L1080.2 257.9L1081.4 258.9L1085.7 266.7ZM1192.4 278.6L1189.8 275.6L1192.4 273.5L1194.6 275.6ZM1242.8 277.3L1240.1 275.6L1240.3 266.7L1242.8 264.7L1252.9 264.1L1255.5 266.7L1252.9 269.1L1245.5 275.6ZM1343.6 278.6L1341.7 275.6L1343.6 273.5L1347.0 275.6ZM919.2 266.7L920.1 266.9L920.8 266.7L920.1 266.4ZM999.5 266.7L1000.8 267.9L1003.2 266.7L1000.8 263.5ZM1018.4 266.7L1020.9 268.3L1022.2 266.7L1020.9 264.5ZM1053.2 266.7L1061.3 271.7L1066.1 266.7L1067.6 257.9L1061.3 253.3L1056.7 257.9ZM1040.0 257.9L1041.1 258.9L1043.1 257.9L1041.1 255.3ZM1293.2 259.6L1290.8 257.9L1283.1 253.7L1278.0 249.0L1278.2 240.1L1283.1 235.6L1286.4 240.1L1291.1 249.0L1293.2 253.4L1296.4 257.9ZM1333.5 259.9L1331.4 257.9L1323.4 250.9L1321.1 249.0L1313.4 244.7L1305.6 249.0L1303.3 251.8L1298.2 249.0L1300.1 240.1L1303.3 236.1L1310.3 231.3L1313.4 228.9L1315.8 231.3L1323.4 235.9L1330.9 240.1L1333.5 244.6L1337.0 249.0L1343.6 254.8L1346.2 257.9L1343.6 259.9ZM864.6 249.0L869.7 251.6L872.6 249.0L879.8 245.2L884.6 240.1L879.8 235.4L869.7 235.2L861.5 240.1ZM967.4 249.0L970.5 251.4L973.3 249.0L970.5 248.2ZM999.4 249.0L1000.8 252.2L1004.0 249.0L1000.8 246.3ZM1048.3 249.0L1051.2 250.8L1053.6 249.0L1051.2 247.3ZM1152.0 251.3L1149.3 249.0L1152.0 246.3L1155.1 249.0ZM1172.2 249.6L1171.0 249.0L1172.2 248.2L1182.3 246.8L1185.6 249.0L1182.3 250.8ZM1212.5 255.1L1207.2 249.0L1202.4 244.5L1195.9 240.1L1192.4 237.0L1186.9 231.3L1182.3 224.7L1180.3 222.4L1182.3 219.2L1187.2 213.6L1192.4 209.5L1202.4 211.6L1203.7 213.6L1202.4 214.7L1193.6 222.4L1202.4 230.2L1205.9 231.3L1212.5 235.6L1222.6 236.9L1226.1 240.1L1225.5 249.0L1222.6 250.9ZM1252.9 244.6L1248.5 240.1L1251.8 231.3L1252.0 222.4L1250.5 213.6L1252.9 210.3L1255.3 213.6L1254.0 222.4L1262.9 225.5L1269.1 231.3L1266.1 240.1L1262.9 242.9ZM924.2 231.3L930.2 234.3L938.3 231.3L930.2 228.3ZM1067.7 231.3L1071.3 234.9L1075.1 231.3L1071.3 225.6ZM1121.8 232.0L1120.4 231.3L1121.8 230.7L1122.9 231.3ZM1141.9 232.2L1140.8 231.3L1137.2 222.4L1141.9 218.6L1152.0 216.2L1155.6 213.6L1162.1 210.1L1166.9 213.6L1162.1 219.3L1159.1 222.4L1152.0 226.7L1142.7 231.3ZM1293.2 233.0L1289.7 231.3L1288.7 222.4L1288.4 213.6L1293.2 206.7L1299.3 213.6L1298.1 222.4L1296.2 231.3ZM1333.5 235.7L1331.1 231.3L1333.5 228.6L1336.6 231.3ZM876.0 222.4L879.8 226.5L885.1 222.4L879.8 218.5ZM978.2 222.4L980.6 223.3L983.6 222.4L980.6 220.5ZM1008.9 222.4L1010.8 224.6L1013.3 222.4L1010.8 220.7ZM1222.6 227.2L1215.5 222.4L1222.6 217.5L1232.7 221.2L1235.3 222.4L1232.7 224.4ZM1323.4 223.2L1322.5 222.4L1313.4 216.0L1311.4 213.6L1312.1 204.7L1313.4 202.3L1323.4 200.3L1327.9 195.9L1329.7 187.0L1333.5 181.3L1337.2 178.2L1333.5 176.5L1323.4 175.0L1316.8 169.3L1323.4 165.1L1329.8 160.5L1330.0 151.6L1333.5 149.7L1334.9 151.6L1343.6 157.1L1348.6 160.5L1349.1 169.3L1348.3 178.2L1343.6 183.8L1340.0 187.0L1339.7 195.9L1339.4 204.7L1333.5 208.7L1324.1 213.6L1324.6 222.4ZM867.6 213.6L869.7 215.3L872.2 213.6L869.7 209.2ZM907.2 213.6L910.0 214.6L912.3 213.6L910.0 212.5ZM937.6 213.6L940.3 215.5L941.3 213.6L940.3 211.4ZM1081.4 215.5L1080.7 213.6L1081.4 212.9L1082.6 213.6ZM1121.8 214.1L1120.3 213.6L1121.8 212.8L1123.1 213.6ZM1343.6 214.5L1343.0 213.6L1343.6 212.7L1344.4 213.6ZM979.4 204.7L980.6 206.7L983.2 204.7L985.7 195.9L980.6 189.7L976.9 195.9ZM1036.9 204.7L1041.1 209.3L1045.4 204.7L1041.1 198.8ZM1101.6 207.7L1099.1 204.7L1101.6 202.3L1104.5 204.7ZM1152.0 208.4L1149.4 204.7L1152.0 202.9L1154.0 204.7ZM1182.3 207.9L1180.0 204.7L1182.3 203.0L1185.5 204.7ZM1212.5 205.8L1210.3 204.7L1206.3 195.9L1212.5 191.7L1222.6 187.5L1231.5 195.9L1228.4 204.7L1222.6 208.6ZM1242.8 209.6L1235.9 204.7L1235.0 195.9L1242.8 191.7L1248.3 195.9L1249.8 204.7ZM1262.9 209.6L1256.0 204.7L1262.9 201.6L1273.0 198.9L1279.3 204.7L1273.0 207.9ZM1010.0 195.9L1010.8 197.1L1012.2 195.9L1010.8 194.9ZM1172.2 197.9L1169.6 195.9L1162.1 191.4L1157.7 187.0L1159.7 178.2L1162.1 176.0L1167.1 178.2L1172.2 179.9L1175.3 178.2L1175.4 169.3L1182.3 165.1L1191.0 169.3L1192.4 173.7L1193.6 178.2L1192.4 179.9L1182.3 184.2L1180.2 187.0L1174.2 195.9ZM916.5 187.0L920.1 191.6L923.7 187.0L925.2 178.2L920.1 173.3L915.1 178.2ZM967.5 187.0L970.5 190.0L977.2 187.0L976.1 178.2L970.5 173.7L966.3 178.2ZM1019.8 187.0L1020.9 188.2L1021.8 187.0L1021.9 178.2L1020.9 177.4L1010.8 176.1L1008.7 178.2L1010.8 180.8ZM1121.8 189.7L1118.9 187.0L1121.8 184.3L1124.4 187.0ZM878.4 178.2L879.8 178.9L880.5 178.2L879.8 177.2ZM1141.9 179.1L1141.0 178.2L1141.9 177.5L1142.8 178.2ZM1222.6 184.4L1217.6 178.2L1212.5 173.7L1211.3 169.3L1202.4 161.6L1197.4 160.5L1194.3 151.6L1193.6 142.7L1192.4 138.3L1191.0 133.9L1187.3 125.0L1182.3 123.3L1181.0 125.0L1174.5 133.9L1173.6 142.7L1173.5 151.6L1172.2 153.5L1164.3 160.5L1162.1 162.6L1159.6 160.5L1158.7 151.6L1152.0 144.4L1150.0 142.7L1152.0 140.9L1162.1 136.1L1165.6 133.9L1163.3 125.0L1162.1 120.6L1159.9 116.2L1152.0 111.2L1141.9 110.5L1135.4 116.2L1131.9 120.6L1128.6 125.0L1121.8 128.2L1111.7 129.6L1104.0 125.0L1111.7 119.4L1115.0 116.2L1111.7 113.6L1101.6 111.2L1097.4 116.2L1096.6 125.0L1091.5 128.0L1089.3 125.0L1085.8 116.2L1091.5 109.0L1094.5 107.3L1091.5 104.5L1087.4 98.5L1088.5 89.6L1091.5 86.4L1093.7 89.6L1098.4 98.5L1101.6 101.1L1106.6 98.5L1111.7 96.4L1114.1 98.5L1121.8 103.3L1131.9 104.1L1141.9 105.0L1152.0 102.6L1162.1 106.2L1172.2 105.4L1182.3 105.5L1183.5 107.3L1190.4 116.2L1192.4 120.6L1195.4 125.0L1202.4 131.2L1205.4 133.9L1212.5 136.3L1219.7 133.9L1221.3 125.0L1222.6 122.3L1232.7 118.5L1242.8 119.9L1252.9 116.6L1260.7 116.2L1252.9 113.5L1250.4 107.3L1248.0 98.5L1249.4 89.6L1252.9 87.1L1256.0 89.6L1262.9 94.0L1267.5 98.5L1270.5 107.3L1273.0 109.2L1278.1 107.3L1283.1 105.2L1284.5 107.3L1283.1 110.1L1279.4 116.2L1283.1 119.3L1288.3 125.0L1283.1 130.7L1278.3 133.9L1283.1 135.6L1293.2 141.6L1294.5 142.7L1293.2 147.2L1291.0 151.6L1293.2 154.0L1297.9 160.5L1293.2 164.0L1283.1 167.1L1273.0 161.4L1271.7 160.5L1262.9 152.8L1254.2 160.5L1252.9 162.4L1251.6 160.5L1249.0 151.6L1252.9 145.0L1262.9 149.6L1273.0 146.3L1276.1 142.7L1273.0 137.2L1268.9 133.9L1265.7 125.0L1262.9 118.2L1262.5 125.0L1252.9 133.2L1242.8 127.2L1232.7 131.7L1225.1 133.9L1223.7 142.7L1227.1 151.6L1228.0 160.5L1230.3 169.3L1232.7 173.7L1234.0 178.2L1232.7 180.9ZM1262.9 178.5L1261.7 178.2L1262.9 178.0L1264.0 178.2ZM1283.1 185.4L1274.3 178.2L1283.1 170.3L1291.7 178.2ZM886.7 169.3L889.8 171.2L892.1 169.3L889.8 167.5ZM957.0 169.3L960.4 171.0L963.0 169.3L960.4 166.6ZM978.1 169.3L980.6 171.9L990.7 171.1L993.7 169.3L990.7 166.7L980.6 166.9ZM1101.6 170.0L1100.5 169.3L1101.6 168.6L1102.4 169.3ZM1152.0 171.4L1149.9 169.3L1152.0 167.1L1154.5 169.3ZM877.6 160.5L879.8 163.2L881.8 160.5L879.8 158.3ZM936.2 160.5L940.3 164.7L943.8 160.5L940.3 156.4ZM1071.3 165.2L1061.7 160.5L1071.3 156.1L1077.0 160.5ZM1111.7 164.5L1107.0 160.5L1111.7 156.7L1116.3 160.5ZM893.0 151.6L899.9 154.7L904.0 151.6L899.9 145.5L898.0 142.7L889.8 138.1L884.4 142.7L889.8 149.9ZM1027.2 151.6L1031.0 154.5L1034.5 151.6L1031.0 148.3ZM1081.4 155.5L1077.6 151.6L1081.4 147.9L1085.6 151.6ZM1141.9 154.0L1139.8 151.6L1141.9 149.9L1143.9 151.6ZM1207.7 151.6L1212.5 155.9L1218.6 151.6L1212.5 148.3ZM1313.4 157.0L1306.5 151.6L1312.1 142.7L1313.4 139.7L1315.4 142.7L1321.0 151.6ZM969.5 142.7L970.5 143.3L971.6 142.7L970.5 142.1ZM1008.5 142.7L1010.8 145.1L1013.3 142.7L1010.8 140.8ZM1071.3 147.4L1065.2 142.7L1061.3 136.5L1058.7 133.9L1061.3 132.2L1071.3 130.3L1075.5 133.9L1077.1 142.7ZM1101.6 145.9L1097.4 142.7L1101.6 138.7L1107.4 142.7ZM1121.8 144.7L1118.1 142.7L1121.8 140.9L1125.2 142.7ZM989.9 133.9L990.7 134.5L991.8 133.9L990.7 132.7ZM1018.7 133.9L1020.9 136.0L1023.2 133.9L1020.9 131.6ZM1303.3 134.2L1302.9 133.9L1303.3 132.7L1304.6 133.9ZM877.2 125.0L879.8 126.9L882.2 125.0L889.8 120.3L895.1 116.2L896.3 107.3L893.0 98.5L889.8 96.7L879.8 95.4L877.1 98.5L879.8 102.9L882.0 107.3L879.8 109.3L875.2 116.2ZM969.5 125.0L970.5 125.7L971.3 125.0L970.5 124.4ZM1006.7 125.0L1010.8 128.9L1015.8 125.0L1010.8 119.7ZM1141.9 127.1L1136.9 125.0L1141.9 121.9L1144.8 125.0ZM944.9 116.2L950.3 120.5L956.3 116.2L960.4 110.1L962.4 107.3L960.4 102.9L950.3 102.5L945.3 107.3ZM1017.3 116.2L1020.9 118.5L1023.3 116.2L1026.5 107.3L1020.9 100.7L1016.7 107.3ZM1167.1 116.2L1172.2 117.3L1174.1 116.2L1172.2 111.8ZM1293.2 118.1L1290.0 116.2L1293.2 115.0L1294.5 116.2ZM979.9 107.3L980.6 108.4L982.0 107.3L980.6 106.1ZM999.4 107.3L1000.8 108.6L1001.4 107.3L1000.8 106.5ZM1071.3 108.4L1070.6 107.3L1071.3 106.2L1072.2 107.3ZM1343.6 111.8L1341.2 107.3L1343.6 105.0L1345.7 107.3ZM913.9 98.5L920.1 105.7L927.3 98.5L920.1 91.0ZM965.5 98.5L970.5 100.2L974.1 98.5L973.5 89.6L970.5 87.4L966.2 80.8L960.4 73.7L955.2 80.8L955.3 89.6L960.4 96.8ZM985.7 98.5L990.7 102.8L994.6 98.5L990.7 95.8ZM1192.4 101.7L1187.1 98.5L1192.4 92.4L1198.2 98.5ZM1222.6 99.3L1221.2 98.5L1221.8 89.6L1220.5 80.8L1222.6 76.3L1224.6 80.8L1223.3 89.6L1223.9 98.5ZM1121.8 90.4L1121.0 89.6L1121.8 89.0L1122.6 89.6ZM1172.2 95.4L1163.5 89.6L1172.2 82.0L1174.3 80.8L1182.3 76.5L1189.0 80.8L1185.7 89.6L1182.3 91.5ZM887.4 80.8L889.8 82.6L899.9 83.2L902.9 80.8L899.9 78.8L894.6 71.9L889.8 67.3L882.2 71.9ZM978.0 80.8L980.6 83.4L990.7 82.5L992.6 80.8L990.7 78.9L980.6 79.0ZM1101.6 82.7L1097.9 80.8L1091.5 75.1L1089.5 71.9L1091.5 69.3L1101.6 67.7L1106.7 71.9L1104.7 80.8ZM1141.9 73.1L1140.0 71.9L1131.9 65.8L1121.8 65.6L1111.7 66.7L1107.9 63.1L1101.6 56.9L1091.5 56.8L1088.3 54.2L1091.5 51.3L1098.3 45.4L1101.6 42.3L1111.7 39.2L1121.8 42.9L1124.0 45.4L1129.5 54.2L1131.9 57.3L1136.9 54.2L1141.9 52.2L1143.9 54.2L1147.5 63.1L1144.9 71.9ZM1212.5 75.5L1205.3 71.9L1202.4 69.0L1192.4 68.3L1182.3 64.8L1178.6 63.1L1182.3 61.4L1192.4 58.7L1202.4 59.3L1209.2 63.1L1212.5 65.5L1219.8 71.9ZM897.7 63.1L899.9 64.7L910.0 64.5L912.1 63.1L910.0 61.0L899.9 60.8ZM1071.3 63.9L1070.5 63.1L1071.3 62.1L1072.0 63.1ZM1162.1 65.4L1158.6 63.1L1162.1 61.2L1165.8 63.1ZM1232.7 65.5L1230.2 63.1L1232.7 60.5L1239.9 54.2L1242.8 52.3L1247.8 54.2L1248.4 63.1L1242.8 66.9ZM917.3 54.2L920.1 56.4L930.2 58.4L935.6 54.2L930.2 50.0L920.1 51.6ZM1061.3 55.0L1060.3 54.2L1061.3 53.6L1062.4 54.2ZM866.7 45.4L869.7 48.4L872.3 45.4L869.7 43.1ZM887.2 45.4L889.8 47.3L892.7 45.4L889.8 42.9ZM1071.3 46.3L1070.7 45.4L1071.3 44.5L1072.2 45.4ZM1172.2 45.7L1170.8 45.4L1172.2 44.3L1173.0 45.4ZM944.5 36.5L943.9 45.4L947.5 54.2L950.3 57.2L954.8 63.1L960.4 69.3L967.6 63.1L964.0 54.2L960.4 52.5L953.3 45.4L960.4 39.7L970.5 42.7L980.6 41.7L987.0 45.4L990.7 47.1L995.7 45.4L1000.8 42.5L1010.8 41.3L1015.4 45.4L1010.8 48.7L1003.2 54.2L1000.8 57.3L990.7 59.8L985.4 54.2L980.6 48.2L973.8 54.2L980.6 61.2L983.6 63.1L990.7 66.5L1000.8 65.9L1010.8 66.2L1012.8 63.1L1020.9 57.0L1030.2 54.2L1031.0 53.7L1031.4 54.2L1031.0 54.8L1027.4 63.1L1031.0 69.2L1041.1 67.7L1049.1 71.9L1051.2 73.7L1056.2 71.9L1061.3 69.7L1064.1 71.9L1071.3 78.3L1081.4 79.0L1085.1 80.8L1081.4 83.4L1071.3 85.2L1069.4 89.6L1067.9 98.5L1061.3 103.0L1056.1 98.5L1053.1 89.6L1051.2 87.8L1043.2 80.8L1041.1 78.9L1031.0 74.0L1020.9 73.6L1010.8 77.7L1008.9 80.8L1010.8 82.5L1020.9 85.3L1031.0 85.1L1038.8 89.6L1034.7 98.5L1041.1 101.9L1046.6 107.3L1041.1 113.8L1038.7 116.2L1036.1 125.0L1041.1 127.2L1046.3 133.9L1041.1 138.5L1036.5 142.7L1041.1 146.6L1051.2 148.9L1054.6 151.6L1060.8 160.5L1051.2 164.7L1041.1 163.7L1035.7 169.3L1041.1 174.4L1051.2 173.3L1059.1 178.2L1061.3 180.2L1066.3 178.2L1071.3 175.9L1078.8 169.3L1081.4 166.9L1084.5 169.3L1086.2 178.2L1091.5 183.7L1095.8 187.0L1091.5 190.9L1084.8 187.0L1081.4 184.7L1079.5 187.0L1081.4 191.4L1084.3 195.9L1081.4 197.8L1073.5 204.7L1071.3 206.7L1061.3 211.3L1059.2 213.6L1061.3 216.2L1071.3 220.5L1076.4 222.4L1081.4 224.6L1091.5 226.7L1099.0 231.3L1101.6 233.9L1108.7 240.1L1101.6 246.4L1098.5 249.0L1101.6 251.6L1111.7 254.0L1116.9 257.9L1114.2 266.7L1121.8 271.0L1129.5 275.6L1125.5 284.4L1131.9 291.2L1139.6 284.4L1139.7 275.6L1138.3 266.7L1141.9 263.6L1143.9 266.7L1152.0 275.0L1153.0 275.6L1152.0 276.3L1144.5 284.4L1152.0 290.0L1156.1 293.3L1157.6 302.1L1156.6 311.0L1158.2 319.8L1162.1 326.1L1172.2 321.6L1175.1 319.8L1172.2 315.4L1169.3 311.0L1172.2 309.0L1182.3 306.8L1192.4 308.6L1202.4 308.4L1204.5 311.0L1202.4 313.6L1192.4 315.4L1189.4 319.8L1192.4 324.3L1195.4 328.7L1192.4 330.8L1182.3 333.1L1177.2 337.5L1177.6 346.4L1174.5 355.2L1178.0 364.1L1174.9 373.0L1176.1 381.8L1176.6 390.7L1174.7 399.5L1172.2 401.6L1167.8 408.4L1162.1 413.2L1156.0 408.4L1156.3 399.5L1162.1 394.1L1166.8 390.7L1162.1 386.4L1154.8 381.8L1152.0 377.4L1149.5 381.8L1150.1 390.7L1145.8 399.5L1141.9 405.2L1131.9 403.3L1127.2 408.4L1128.9 417.2L1131.9 419.8L1133.8 417.2L1141.9 410.1L1148.0 417.2L1152.0 423.8L1154.2 426.1L1162.1 430.2L1170.0 426.1L1172.2 421.6L1174.2 417.2L1182.3 411.4L1187.6 417.2L1192.4 424.1L1194.3 426.1L1192.4 428.2L1182.3 433.0L1180.2 434.9L1178.5 443.8L1180.2 452.6L1172.2 459.7L1167.1 461.5L1172.2 463.2L1180.3 470.3L1182.3 472.2L1184.7 470.3L1186.4 461.5L1187.3 452.6L1192.4 449.8L1194.5 452.6L1200.2 461.5L1202.4 463.4L1212.5 467.9L1214.5 470.3L1222.6 475.4L1232.7 475.6L1240.7 470.3L1242.8 467.8L1245.3 470.3L1252.9 474.9L1262.9 472.6L1273.0 472.9L1278.1 470.3L1283.1 468.5L1288.4 461.5L1293.2 455.7L1303.3 458.0L1311.3 452.6L1313.4 450.9L1318.4 452.6L1323.4 455.5L1326.9 452.6L1325.6 443.8L1323.4 441.7L1315.7 434.9L1313.4 432.2L1303.3 432.0L1293.2 427.9L1289.9 426.1L1293.2 424.1L1303.3 422.9L1313.4 422.7L1321.3 417.2L1321.3 408.4L1323.4 406.6L1331.5 399.5L1333.5 397.5L1341.4 390.7L1343.6 388.4L1353.7 387.9M1205.5 36.5L1202.4 40.9L1200.0 45.4L1192.4 49.6L1187.6 45.4L1186.9 36.5M1285.8 36.5L1283.1 39.8L1273.0 38.3L1267.3 45.4L1273.0 52.4L1274.4 54.2L1275.4 63.1L1273.0 65.3L1262.9 64.8L1259.8 63.1L1254.1 54.2L1256.9 45.4L1252.9 42.6L1246.7 36.5M1325.5 36.5L1328.9 45.4L1333.5 50.2L1337.7 54.2L1333.5 57.8L1325.6 63.1L1333.5 67.3L1338.6 71.9L1343.6 79.0L1346.0 80.8L1345.7 89.6L1343.6 92.0L1341.4 89.6L1338.6 80.8L1333.5 79.0L1330.5 80.8L1323.4 87.0L1321.3 89.6L1323.4 91.8L1329.6 98.5L1325.9 107.3L1333.5 111.8L1341.2 116.2L1341.2 125.0L1333.5 128.9L1328.4 125.0L1323.4 121.2L1318.2 116.2L1322.1 107.3L1313.4 99.7L1303.3 99.7L1293.2 99.7L1290.8 98.5L1283.1 93.5L1273.0 92.0L1269.9 89.6L1273.0 87.8L1281.0 80.8L1283.1 78.2L1288.2 80.8L1293.2 81.9L1303.3 84.8L1313.4 82.7L1316.4 80.8L1313.4 78.7L1303.3 76.0L1293.2 76.3L1290.3 71.9L1287.5 63.1L1293.2 55.9L1303.3 60.9L1306.2 63.1L1313.4 66.8L1320.5 63.1L1316.3 54.2L1313.4 49.8L1310.6 45.4L1310.7 36.5M1353.7 40.4L1349.8 36.5M889.1 426.1L889.8 427.2L891.2 426.1L889.8 424.9ZM1218.3 408.4L1222.6 411.0L1225.1 408.4L1222.6 405.4ZM866.9 373.0L869.7 373.9L871.3 373.0L869.7 370.1ZM888.2 373.0L889.8 373.7L890.8 373.0L891.4 364.1L889.8 362.2L885.6 364.1ZM1190.4 373.0L1192.4 374.3L1194.2 373.0L1192.4 372.3ZM899.4 355.2L899.9 355.6L901.2 355.2L899.9 354.1ZM878.8 346.4L879.8 347.2L881.4 346.4L879.8 343.4ZM926.2 346.4L930.2 351.4L934.2 346.4L930.2 340.1ZM916.5 328.7L920.1 331.2L924.6 328.7L920.1 325.6ZM969.0 328.7L970.5 330.0L980.6 335.1L990.7 332.1L994.8 328.7L990.7 326.4L983.8 319.8L980.6 317.4L970.5 315.2L960.4 313.3L953.8 319.8L960.4 326.3ZM957.4 293.3L960.4 296.1L964.4 293.3L960.4 290.4ZM985.1 293.3L990.7 298.1L995.5 293.3L990.7 287.0ZM849.5 286.2L850.0 284.4L850.5 275.6L851.1 266.7L849.5 265.3M937.2 284.4L940.3 285.9L941.4 284.4L943.5 275.6L940.3 273.5L936.8 275.6ZM1159.5 231.3L1162.1 232.8L1164.0 231.3L1162.1 230.0ZM1237.4 231.3L1242.8 235.2L1245.5 231.3L1242.8 227.2ZM1200.8 222.4L1202.4 223.9L1204.9 222.4L1202.4 221.0ZM1271.3 222.4L1273.0 224.1L1276.2 222.4L1283.1 217.6L1284.1 213.6L1283.1 209.9L1273.0 210.7L1266.0 213.6ZM1210.9 213.6L1212.5 215.8L1216.0 213.6L1212.5 212.2ZM1230.4 213.6L1232.7 214.4L1235.0 213.6L1232.7 212.2ZM1300.8 204.7L1303.3 208.9L1304.9 204.7L1303.3 202.5ZM1259.9 195.9L1262.9 196.9L1266.4 195.9L1273.0 190.1L1277.3 187.0L1273.0 184.5L1262.9 184.3L1257.8 187.0ZM1285.4 187.0L1293.2 193.9L1303.3 188.4L1305.2 187.0L1313.4 183.2L1318.6 178.2L1313.4 173.6L1305.8 169.3L1303.3 166.4L1299.0 169.3L1295.9 178.2L1293.2 180.9ZM1200.8 178.2L1202.4 180.5L1204.6 178.2L1204.1 169.3L1202.4 167.9L1200.3 169.3ZM1241.2 178.2L1242.8 181.7L1245.4 178.2L1242.8 174.4ZM1255.3 169.3L1262.9 174.1L1273.0 173.6L1277.8 169.3L1273.0 166.5L1263.9 160.5L1262.9 159.6L1262.0 160.5ZM1178.2 160.5L1182.3 161.4L1184.6 160.5L1183.6 151.6L1183.4 142.7L1183.1 133.9L1182.3 132.9L1181.6 133.9L1181.5 142.7L1181.3 151.6ZM1238.9 160.5L1242.8 164.2L1244.4 160.5L1245.9 151.6L1242.8 145.4L1235.8 151.6ZM1342.6 151.6L1343.6 152.2L1346.6 151.6L1343.6 149.1ZM1301.7 142.7L1303.3 145.4L1304.9 142.7L1303.3 141.2ZM1235.8 133.9L1242.8 140.2L1248.9 133.9L1242.8 130.5ZM1290.5 133.9L1293.2 135.3L1295.0 133.9L1293.2 130.4ZM1321.8 133.9L1323.4 136.5L1326.5 133.9L1323.4 132.1ZM1209.7 125.0L1212.5 127.5L1214.1 125.0L1217.0 116.2L1217.5 107.3L1212.5 103.8L1202.4 102.8L1192.4 106.3L1190.7 107.3L1192.4 109.2L1200.3 116.2L1202.4 118.6ZM1301.7 116.2L1303.3 118.4L1307.1 116.2L1313.4 109.5L1314.3 107.3L1313.4 106.5L1303.3 106.5L1293.2 106.5L1292.2 107.3L1293.2 108.2ZM1240.2 107.3L1242.8 110.0L1244.2 107.3L1242.8 103.4ZM1159.2 98.5L1162.1 99.9L1165.8 98.5L1162.1 96.6ZM1139.9 80.8L1141.9 82.4L1145.1 80.8L1141.9 79.9ZM1238.4 80.8L1242.8 83.0L1245.7 80.8L1242.8 77.5ZM1249.1 71.9L1252.9 74.5L1257.3 71.9L1252.9 69.6ZM1166.9 54.2L1172.2 57.3L1178.2 54.2L1172.2 51.9ZM1282.1 54.2L1283.1 56.2L1284.4 54.2L1283.1 52.9ZM928.2 346.4L930.2 348.9L932.2 346.4L930.2 343.2ZM919.6 328.7L920.1 329.0L920.7 328.7L920.1 328.3ZM976.9 328.7L980.6 330.8L990.7 328.8L990.9 328.7L990.7 328.6L981.4 319.8L980.6 319.2L970.5 318.1L960.4 316.2L956.7 319.8L960.4 323.4L970.5 323.5ZM960.3 293.3L960.4 293.4L960.6 293.3L960.4 293.1ZM987.8 293.3L990.7 295.7L993.1 293.3L990.7 290.1ZM1272.9 213.6L1273.0 213.8L1273.3 213.6L1273.0 213.5ZM1292.6 187.0L1293.2 187.5L1294.0 187.0L1293.2 186.6ZM1301.6 178.2L1303.3 180.4L1308.3 178.2L1303.3 175.7ZM1261.4 169.3L1262.9 170.3L1266.5 169.3L1262.9 167.3ZM1242.6 151.6L1242.8 151.9L1242.9 151.6L1242.8 151.4ZM1242.4 133.9L1242.8 134.2L1243.1 133.9L1242.8 133.7ZM930.1 346.4L930.2 346.5L930.2 346.4L930.2 346.3ZM959.7 319.8L960.4 320.5L964.3 319.8L960.4 319.1ZM990.6 293.3L990.7 293.3L990.7 293.3L990.7 293.2Z" fill="none" stroke="#000" stroke-width="1.15" stroke-linejoin="round"/>
<rect x="849.5" y="36.5" width="504.2" height="442.7" fill="none" stroke="#3a3a3a" stroke-width="1.2"/>
<path d="M849.5 479.2v-5M849.5 36.5v5M849.5 479.2h5M1353.7 479.2h-5" stroke="#3a3a3a" stroke-width="1.1" fill="none"/>
<path d="M950.3 479.2v-5M950.3 36.5v5M849.5 390.7h5M1353.7 390.7h-5" stroke="#3a3a3a" stroke-width="1.1" fill="none"/>
<path d="M1051.2 479.2v-5M1051.2 36.5v5M849.5 302.1h5M1353.7 302.1h-5" stroke="#3a3a3a" stroke-width="1.1" fill="none"/>
<path d="M1152.0 479.2v-5M1152.0 36.5v5M849.5 213.6h5M1353.7 213.6h-5" stroke="#3a3a3a" stroke-width="1.1" fill="none"/>
<path d="M1252.9 479.2v-5M1252.9 36.5v5M849.5 125.0h5M1353.7 125.0h-5" stroke="#3a3a3a" stroke-width="1.1" fill="none"/>
<path d="M1353.7 479.2v-5M1353.7 36.5v5M849.5 36.5h5M1353.7 36.5h-5" stroke="#3a3a3a" stroke-width="1.1" fill="none"/>
<g class="t">
<text transform="translate(849.5,519.2) scale(0.97,1)" text-anchor="middle" font-size="30.7" fill="#262626" >0</text>
<text transform="translate(840.2,491.8) scale(0.97,1)" text-anchor="end" font-size="30.7" fill="#262626" >0</text>
<text transform="translate(950.3,519.2) scale(0.97,1)" text-anchor="middle" font-size="30.7" fill="#262626" >0.2</text>
<text transform="translate(840.2,403.3) scale(0.97,1)" text-anchor="end" font-size="30.7" fill="#262626" >0.2</text>
<text transform="translate(1051.2,519.2) scale(0.97,1)" text-anchor="middle" font-size="30.7" fill="#262626" >0.4</text>
<text transform="translate(840.2,314.7) scale(0.97,1)" text-anchor="end" font-size="30.7" fill="#262626" >0.4</text>
<text transform="translate(1152.0,519.2) scale(0.97,1)" text-anchor="middle" font-size="30.7" fill="#262626" >0.6</text>
<text transform="translate(840.2,226.2) scale(0.97,1)" text-anchor="end" font-size="30.7" fill="#262626" >0.6</text>
<text transform="translate(1252.9,519.2) scale(0.97,1)" text-anchor="middle" font-size="30.7" fill="#262626" >0.8</text>
<text transform="translate(840.2,137.6) scale(0.97,1)" text-anchor="end" font-size="30.7" fill="#262626" >0.8</text>
<text transform="translate(1353.7,519.2) scale(0.97,1)" text-anchor="middle" font-size="30.7" fill="#262626" >1</text>
<text transform="translate(840.2,49.1) scale(0.97,1)" text-anchor="end" font-size="30.7" fill="#262626" >1</text>
<text transform="translate(1101.0,559.8) scale(1,1)" text-anchor="middle" font-size="33.7" fill="#262626" >x</text>
<text transform="translate(786.5,258.3) rotate(-90)" text-anchor="middle" font-size="33.7" fill="#262626">y</text>
</g>
<defs><linearGradient id="pg" x1="0" y1="1" x2="0" y2="0">
<stop offset="0.0000" stop-color="#3e26a8"/>
<stop offset="0.0476" stop-color="#4332cb"/>
<stop offset="0.0952" stop-color="#4741e5"/>
<stop offset="0.1429" stop-color="#4852f4"/>
<stop offset="0.1905" stop-color="#4563fd"/>
<stop offset="0.2381" stop-color="#3875fe"/>
<stop offset="0.2857" stop-color="#2e87f7"/>
<stop offset="0.3333" stop-color="#2797eb"/>
<stop offset="0.3810" stop-color="#20a5e3"/>
<stop offset="0.4286" stop-color="#12b1d6"/>
<stop offset="0.4762" stop-color="#02bac3"/>
<stop offset="0.5238" stop-color="#24c1ae"/>
<stop offset="0.5714" stop-color="#37c897"/>
<stop offset="0.6190" stop-color="#57cc7a"/>
<stop offset="0.6667" stop-color="#81cc59"/>
<stop offset="0.7143" stop-color="#abc739"/>
<stop offset="0.7619" stop-color="#d1bf27"/>
<stop offset="0.8095" stop-color="#f0ba36"/>
<stop offset="0.8571" stop-color="#fec338"/>
<stop offset="0.9048" stop-color="#fad62d"/>
<stop offset="0.9524" stop-color="#f5e924"/>
<stop offset="1.0000" stop-color="#f9fb15"/>
</linearGradient></defs>
<rect x="1388.9" y="36.5" width="28.8" height="442.7" fill="url(#pg)" stroke="#3a3a3a" stroke-width="1.2"/>
<g class="t">
<text transform="translate(1426.2,47.4) scale(0.93,1)" text-anchor="start" font-size="27.6" fill="#262626" >6</text>
<path d="M1417.7 97.6h-5" stroke="#3a3a3a" stroke-width="1.1"/>
<text transform="translate(1426.2,108.5) scale(0.93,1)" text-anchor="start" font-size="27.6" fill="#262626" >4</text>
<path d="M1417.7 158.6h-5" stroke="#3a3a3a" stroke-width="1.1"/>
<text transform="translate(1426.2,169.5) scale(0.93,1)" text-anchor="start" font-size="27.6" fill="#262626" >2</text>
<path d="M1417.7 219.7h-5" stroke="#3a3a3a" stroke-width="1.1"/>
<text transform="translate(1426.2,230.6) scale(0.93,1)" text-anchor="start" font-size="27.6" fill="#262626" >0</text>
<path d="M1417.7 280.7h-5" stroke="#3a3a3a" stroke-width="1.1"/>
<text transform="translate(1426.2,291.6) scale(0.93,1)" text-anchor="start" font-size="27.6" fill="#262626" >-2</text>
<path d="M1417.7 341.8h-5" stroke="#3a3a3a" stroke-width="1.1"/>
<text transform="translate(1426.2,352.7) scale(0.93,1)" text-anchor="start" font-size="27.6" fill="#262626" >-4</text>
<path d="M1417.7 402.9h-5" stroke="#3a3a3a" stroke-width="1.1"/>
<text transform="translate(1426.2,413.8) scale(0.93,1)" text-anchor="start" font-size="27.6" fill="#262626" >-6</text>
<path d="M1417.7 463.9h-5" stroke="#3a3a3a" stroke-width="1.1"/>
<text transform="translate(1426.2,474.8) scale(0.93,1)" text-anchor="start" font-size="27.6" fill="#262626" >-8</text>
<text transform="translate(1403.5,20.7) scale(0.97,1)" text-anchor="middle" font-size="30.7" fill="#000" >nT</text>
</g></g>
<g id="panel-c">
<rect x="121.6" y="660.5" width="585.3" height="292.8" fill="#fff" stroke="#3a3a3a" stroke-width="1.3"/>
<path d="M238.7 953.3v-6M238.7 660.5v6M355.7 953.3v-6M355.7 660.5v6M472.8 953.3v-6M472.8 660.5v6M589.8 953.3v-6M589.8 660.5v6M121.6 719.1h6M706.9 719.1h-6M121.6 777.6h6M706.9 777.6h-6M121.6 836.2h6M706.9 836.2h-6M121.6 894.7h6M706.9 894.7h-6" stroke="#3a3a3a" stroke-width="1.1" fill="none"/>
<g class="t">
<text transform="translate(121.6,993.5) scale(0.97,1)" text-anchor="middle" font-size="30.7" fill="#262626" >0</text>
<text transform="translate(238.7,993.5) scale(0.97,1)" text-anchor="middle" font-size="30.7" fill="#262626" >0.2</text>
<text transform="translate(355.7,993.5) scale(0.97,1)" text-anchor="middle" font-size="30.7" fill="#262626" >0.4</text>
<text transform="translate(472.8,993.5) scale(0.97,1)" text-anchor="middle" font-size="30.7" fill="#262626" >0.6</text>
<text transform="translate(589.8,993.5) scale(0.97,1)" text-anchor="middle" font-size="30.7" fill="#262626" >0.8</text>
<text transform="translate(706.9,993.5) scale(0.97,1)" text-anchor="middle" font-size="30.7" fill="#262626" >1</text>
<text transform="translate(111.4,731.7) scale(0.97,1)" text-anchor="end" font-size="30.7" fill="#262626" >-0.1</text>
<text transform="translate(111.4,790.2) scale(0.97,1)" text-anchor="end" font-size="30.7" fill="#262626" >-0.2</text>
<text transform="translate(111.4,848.8) scale(0.97,1)" text-anchor="end" font-size="30.7" fill="#262626" >-0.3</text>
<text transform="translate(111.4,907.3) scale(0.97,1)" text-anchor="end" font-size="30.7" fill="#262626" >-0.4</text>
<text transform="translate(111.4,965.9) scale(0.97,1)" text-anchor="end" font-size="30.7" fill="#262626" >-0.5</text>
<text transform="translate(413.4,1034.6) scale(1,1)" text-anchor="middle" font-size="33.7" fill="#262626" >y</text>
<text transform="translate(47.9,807.3) rotate(-90)" text-anchor="middle" font-size="33.7" fill="#262626">z</text>
</g>
<path d="M350.6 808.7L262.2 716.2L267.8 711.4L357.1 711.4L451.0 805.8L443.8 814.2L355.8 814.2Z" fill="none" stroke="#808080" stroke-width="3.9" pathLength="21.35" stroke-dasharray="0.475 0.525" stroke-linejoin="miter"/><path d="M311.4 705.9L326.5 706.3L339.9 715.4L355.0 721.7L370.1 733.6L382.8 745.5L396.2 759.0L413.7 778.0L415.3 792.3L410.5 807.4L400.2 820.9L384.4 831.2L370.1 835.1L341.5 830.4L326.5 820.9L312.2 807.4L301.1 792.3L297.1 778.8L295.5 758.2L295.8 734.4L297.9 719.3L305.0 712.2Z" fill="none" stroke="#808080" stroke-width="3.2" stroke-linejoin="round"/>
</g>
<g id="panel-d">
<rect x="816.7" y="660.5" width="585.3" height="292.9" fill="#fff" stroke="#3a3a3a" stroke-width="1.3"/>
<path d="M933.8 953.4v-6M933.8 660.5v6M1050.8 953.4v-6M1050.8 660.5v6M1167.9 953.4v-6M1167.9 660.5v6M1284.9 953.4v-6M1284.9 660.5v6M816.7 719.1h6M1402.0 719.1h-6M816.7 777.7h6M1402.0 777.7h-6M816.7 836.2h6M1402.0 836.2h-6M816.7 894.8h6M1402.0 894.8h-6" stroke="#3a3a3a" stroke-width="1.1" fill="none"/>
<g class="t">
<text transform="translate(816.7,993.6) scale(0.97,1)" text-anchor="middle" font-size="30.7" fill="#262626" >0</text>
<text transform="translate(933.8,993.6) scale(0.97,1)" text-anchor="middle" font-size="30.7" fill="#262626" >0.2</text>
<text transform="translate(1050.8,993.6) scale(0.97,1)" text-anchor="middle" font-size="30.7" fill="#262626" >0.4</text>
<text transform="translate(1167.9,993.6) scale(0.97,1)" text-anchor="middle" font-size="30.7" fill="#262626" >0.6</text>
<text transform="translate(1284.9,993.6) scale(0.97,1)" text-anchor="middle" font-size="30.7" fill="#262626" >0.8</text>
<text transform="translate(1402.0,993.6) scale(0.97,1)" text-anchor="middle" font-size="30.7" fill="#262626" >1</text>
<text transform="translate(806.5,731.7) scale(0.97,1)" text-anchor="end" font-size="30.7" fill="#262626" >-0.1</text>
<text transform="translate(806.5,790.3) scale(0.97,1)" text-anchor="end" font-size="30.7" fill="#262626" >-0.2</text>
<text transform="translate(806.5,848.8) scale(0.97,1)" text-anchor="end" font-size="30.7" fill="#262626" >-0.3</text>
<text transform="translate(806.5,907.4) scale(0.97,1)" text-anchor="end" font-size="30.7" fill="#262626" >-0.4</text>
<text transform="translate(806.5,966.0) scale(0.97,1)" text-anchor="end" font-size="30.7" fill="#262626" >-0.5</text>
<text transform="translate(1108.5,1034.6) scale(1,1)" text-anchor="middle" font-size="33.7" fill="#262626" >y</text>
<text transform="translate(743.0,807.4) rotate(-90)" text-anchor="middle" font-size="33.7" fill="#262626">z</text>
</g>
<path d="M918.4 784.9L963.3 784.9L970.3 792.1L970.3 866.2L963.6 872.8L904.2 872.8L897.0 865.6L897.0 792.1L904.2 784.9Z" fill="none" stroke="#808080" stroke-width="3.9" pathLength="14" stroke-dasharray="0.49 0.510" stroke-linejoin="miter"/><path d="M919.0 773.2L931.6 773.6L949.2 776.0L963.6 780.5L978.1 791.5L989.4 805.9L993.8 821.6L988.1 835.5L977.5 845.5L963.0 851.2L947.9 853.7L933.5 852.0L918.4 847.1L903.9 839.2L896.4 831.7L888.2 822.3L883.8 806.9L888.2 790.8L903.3 777.6Z" fill="none" stroke="#808080" stroke-width="3.2" stroke-linejoin="round"/><path d="M1257.2 726.3L1270.4 726.3L1306.9 762.8L1306.9 793.6L1271.7 828.8L1240.3 828.8L1204.5 792.9L1204.5 761.5L1240.3 726.3Z" fill="none" stroke="#808080" stroke-width="3.9" pathLength="15" stroke-dasharray="0.49 0.510" stroke-linejoin="miter"/><path d="M1256.0 729.5L1270.4 732.0L1285.5 743.9L1300.6 761.5L1303.7 777.9L1300.6 792.9L1296.2 806.8L1285.5 822.5L1270.4 832.5L1256.0 836.3L1240.9 832.5L1225.8 822.5L1215.8 807.4L1210.1 792.3L1208.6 777.9L1211.1 762.8L1223.9 746.4L1240.9 732.0Z" fill="none" stroke="#808080" stroke-width="3.2" stroke-linejoin="round"/>
</g>
<g class="c">
<text transform="translate(361.8,623.0) scale(1.04,1)" text-anchor="middle" font-size="44" fill="#000" >(a)</text>
<text transform="translate(1101.5,623.0) scale(1.04,1)" text-anchor="middle" font-size="44" fill="#000" >(b)</text>
<text transform="translate(361.8,1104.4) scale(1.04,1)" text-anchor="middle" font-size="44" fill="#000" >(c)</text>
<text transform="translate(1058.0,1104.4) scale(1.04,1)" text-anchor="middle" font-size="44" fill="#000" >(d)</text>
</g>
</svg></body></html>
